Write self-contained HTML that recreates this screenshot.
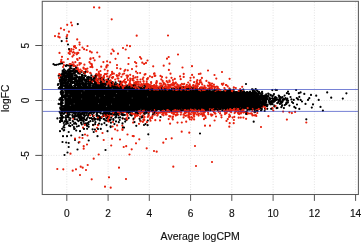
<!DOCTYPE html>
<html><head><meta charset="utf-8"><title>MA plot</title>
<style>
html,body{margin:0;padding:0;background:#fff;}
svg{display:block;}
text{font-family:"Liberation Sans",Arial,sans-serif;font-size:10.2px;fill:#111;stroke:#111;stroke-width:0.15px;}
</style></head><body>
<svg width="362" height="243" viewBox="0 0 362 243">
<rect width="362" height="243" fill="#fff"/>
<g stroke="#dcdcdc" stroke-width="0.8" stroke-dasharray="1 1.6" fill="none"><line x1="66.8" y1="2" x2="66.8" y2="194"/><line x1="108.1" y1="2" x2="108.1" y2="194"/><line x1="149.3" y1="2" x2="149.3" y2="194"/><line x1="190.6" y1="2" x2="190.6" y2="194"/><line x1="231.8" y1="2" x2="231.8" y2="194"/><line x1="273.1" y1="2" x2="273.1" y2="194"/><line x1="314.4" y1="2" x2="314.4" y2="194"/><line x1="355.6" y1="2" x2="355.6" y2="194"/><line x1="43" y1="155.4" x2="358" y2="155.4"/><line x1="43" y1="100.5" x2="358" y2="100.5"/><line x1="43" y1="45.5" x2="358" y2="45.5"/></g>
<polygon points="64.5,86.8 65.5,86.8 66.5,86.8 67.5,86.8 68.5,86.8 69.5,86.8 70.5,86.8 71.5,86.8 72.5,86.8 73.5,86.8 74.5,86.8 75.5,86.8 76.5,86.8 77.5,86.8 78.5,86.8 79.5,86.8 80.5,86.8 81.5,86.8 82.5,86.8 83.5,86.8 84.5,86.8 85.5,86.8 86.5,86.8 87.5,86.8 88.5,86.8 89.5,86.8 90.5,86.8 91.5,86.8 92.5,86.8 93.5,86.8 94.5,86.8 95.5,86.8 96.5,86.8 97.5,86.8 98.5,86.8 99.5,86.8 100.5,86.8 101.5,86.8 102.5,86.8 103.5,86.8 104.5,86.8 105.5,86.8 106.5,86.8 107.5,86.8 108.5,86.8 109.5,86.8 110.5,86.8 111.5,86.8 112.5,86.8 113.5,86.8 114.5,86.8 115.5,86.8 116.5,86.8 117.5,87.0 118.5,87.2 119.5,87.3 120.5,87.5 121.5,87.6 122.5,87.7 123.5,87.8 124.5,87.9 125.5,88.1 126.5,88.2 127.5,88.3 128.5,88.4 129.5,88.5 130.5,88.6 131.5,88.7 132.5,88.7 133.5,88.7 134.5,88.8 135.5,88.8 136.5,88.9 137.5,88.9 138.5,88.9 139.5,89.0 140.5,89.0 141.5,89.1 142.5,89.1 143.5,89.1 144.5,89.2 145.5,89.2 146.5,89.3 147.5,89.3 148.5,89.3 149.5,89.4 150.5,89.4 151.5,89.4 152.5,89.4 153.5,89.5 154.5,89.5 155.5,89.5 156.5,89.5 157.5,89.5 158.5,89.5 159.5,89.6 160.5,89.6 161.5,89.6 162.5,89.6 163.5,89.6 164.5,89.6 165.5,89.6 166.5,89.7 167.5,89.7 168.5,89.7 169.5,89.7 170.5,89.7 171.5,89.7 172.5,89.8 173.5,89.8 174.5,89.8 175.5,89.8 176.5,89.8 177.5,89.8 178.5,89.9 179.5,89.9 180.5,89.9 181.5,89.9 182.5,89.9 183.5,89.9 184.5,90.0 185.5,90.0 186.5,90.0 187.5,90.0 188.5,90.0 189.5,90.0 190.5,90.0 191.5,90.1 192.5,90.1 193.5,90.1 194.5,90.1 195.5,90.1 196.5,90.1 197.5,90.2 198.5,90.2 199.5,90.2 200.5,90.2 201.5,90.2 202.5,90.3 203.5,90.3 204.5,90.3 205.5,90.4 206.5,90.4 207.5,90.4 208.5,90.5 209.5,90.5 210.5,90.5 211.5,90.5 212.5,90.6 213.5,90.6 214.5,90.6 215.5,90.7 216.5,90.7 217.5,90.7 218.5,90.8 219.5,90.8 220.5,90.8 221.5,90.8 222.5,90.9 223.5,90.9 224.5,90.9 225.5,91.0 226.5,91.0 227.5,91.0 228.5,91.1 229.5,91.1 230.5,91.1 231.5,91.1 232.5,91.2 233.5,91.2 234.5,91.2 235.5,91.3 236.5,91.3 237.5,91.3 238.5,91.4 239.5,91.4 240.5,91.4 241.5,91.5 242.5,91.6 243.5,91.7 244.5,91.8 245.5,91.9 246.5,92.0 247.5,92.1 248.5,92.2 249.5,92.3 250.5,92.4 251.5,92.5 252.5,92.6 253.5,92.7 254.5,92.8 255.5,93.0 255.5,107.1 254.5,107.2 253.5,107.3 252.5,107.4 251.5,107.4 250.5,107.5 249.5,107.6 248.5,107.6 247.5,107.7 246.5,107.8 245.5,107.8 244.5,107.9 243.5,108.0 242.5,108.0 241.5,108.1 240.5,108.2 239.5,108.2 238.5,108.2 237.5,108.2 236.5,108.3 235.5,108.3 234.5,108.3 233.5,108.3 232.5,108.4 231.5,108.4 230.5,108.4 229.5,108.4 228.5,108.4 227.5,108.5 226.5,108.5 225.5,108.5 224.5,108.5 223.5,108.5 222.5,108.5 221.5,108.6 220.5,108.6 219.5,108.6 218.5,108.6 217.5,108.7 216.5,108.7 215.5,108.7 214.5,108.7 213.5,108.7 212.5,108.8 211.5,108.8 210.5,108.8 209.5,108.8 208.5,108.8 207.5,108.8 206.5,108.9 205.5,108.9 204.5,108.9 203.5,108.9 202.5,109.0 201.5,109.0 200.5,109.0 199.5,109.0 198.5,109.0 197.5,109.0 196.5,109.1 195.5,109.1 194.5,109.1 193.5,109.1 192.5,109.1 191.5,109.1 190.5,109.2 189.5,109.2 188.5,109.2 187.5,109.2 186.5,109.2 185.5,109.2 184.5,109.2 183.5,109.3 182.5,109.3 181.5,109.3 180.5,109.3 179.5,109.3 178.5,109.3 177.5,109.4 176.5,109.4 175.5,109.4 174.5,109.4 173.5,109.4 172.5,109.4 171.5,109.5 170.5,109.5 169.5,109.5 168.5,109.5 167.5,109.5 166.5,109.5 165.5,109.6 164.5,109.6 163.5,109.6 162.5,109.6 161.5,109.6 160.5,109.6 159.5,109.6 158.5,109.7 157.5,109.7 156.5,109.7 155.5,109.7 154.5,109.7 153.5,109.7 152.5,109.8 151.5,109.8 150.5,109.8 149.5,109.8 148.5,109.9 147.5,110.0 146.5,110.0 145.5,110.1 144.5,110.2 143.5,110.3 142.5,110.3 141.5,110.4 140.5,110.5 139.5,110.5 138.5,110.6 137.5,110.7 136.5,110.7 135.5,110.8 134.5,110.9 133.5,111.0 132.5,111.0 131.5,111.1 130.5,111.2 129.5,111.2 128.5,111.2 127.5,111.2 126.5,111.2 125.5,111.2 124.5,111.2 123.5,111.2 122.5,111.2 121.5,111.2 120.5,111.2 119.5,111.2 118.5,111.2 117.5,111.2 116.5,111.2 115.5,111.2 114.5,111.2 113.5,111.2 112.5,111.2 111.5,111.2 110.5,111.2 109.5,111.2 108.5,111.2 107.5,111.2 106.5,111.2 105.5,111.2 104.5,111.2 103.5,111.2 102.5,111.2 101.5,111.2 100.5,111.2 99.5,111.2 98.5,111.2 97.5,111.2 96.5,111.2 95.5,111.2 94.5,111.2 93.5,111.2 92.5,111.2 91.5,111.2 90.5,111.2 89.5,111.2 88.5,111.2 87.5,111.2 86.5,111.2 85.5,111.2 84.5,111.2 83.5,111.2 82.5,111.2 81.5,111.2 80.5,111.2 79.5,111.2 78.5,111.2 77.5,111.2 76.5,111.2 75.5,111.2 74.5,111.2 73.5,111.2 72.5,111.2 71.5,111.2 70.5,111.2 69.5,111.2 68.5,111.2 67.5,111.2 66.5,111.2 65.5,111.2 64.5,111.2" fill="#000"/>
<g stroke-width="2.2" stroke-linecap="round" fill="none"><path d="M166.6 92.1h0M130.9 92.0h0M88.8 107.9h0M102.2 85.2h0M151.6 89.1h0M125.2 110.0h0M256.0 96.5h0M106.2 83.5h0M191.4 88.1h0M261.0 110.5h0M204.4 100.6h0M86.4 124.8h0M79.1 117.2h0M203.1 88.9h0M215.8 108.5h0M265.8 104.3h0M69.1 111.6h0M117.1 113.4h0M198.5 108.2h0M262.6 103.5h0M63.2 106.1h0M194.8 96.2h0M270.4 104.3h0M215.5 93.4h0M89.8 104.3h0M159.4 89.1h0M103.9 88.4h0M250.5 104.4h0M185.7 89.1h0M78.7 116.0h0M238.1 103.8h0M60.7 84.0h0M249.7 102.5h0M89.0 83.5h0M97.6 118.6h0M83.7 89.9h0M74.9 108.4h0M104.4 111.5h0M158.0 88.6h0M107.0 80.2h0M94.2 111.7h0M172.7 100.1h0M120.2 108.8h0M262.7 102.2h0M126.5 87.6h0M116.9 86.6h0M181.4 96.2h0M117.1 87.3h0M251.7 97.5h0M221.7 101.3h0M61.9 85.8h0M116.7 85.6h0M227.4 91.1h0M108.3 89.4h0M83.5 84.3h0M76.0 81.3h0M76.6 68.4h0M64.3 97.0h0M190.1 91.3h0M261.7 108.6h0M180.6 102.5h0M102.2 84.9h0M274.0 94.0h0M111.1 108.1h0M176.6 92.9h0M66.3 72.6h0M126.9 106.7h0M66.7 86.8h0M130.8 111.3h0M132.5 107.5h0M262.8 96.7h0M88.6 79.1h0M183.6 107.8h0M99.6 82.8h0M109.1 89.5h0M111.0 89.6h0M268.9 100.8h0M114.8 91.8h0M100.4 79.3h0M164.0 104.5h0M197.3 91.2h0M231.9 98.9h0M90.9 112.8h0M196.7 110.5h0M131.3 100.1h0M148.0 106.5h0M96.1 85.9h0M177.1 98.1h0M87.8 78.8h0M171.0 110.0h0M170.3 105.8h0M100.3 84.6h0M207.5 108.7h0M173.2 89.2h0M61.2 99.7h0M86.6 120.0h0M92.5 106.0h0M179.3 91.5h0M65.1 80.3h0M190.4 108.1h0M167.3 103.7h0M84.1 110.0h0M123.8 108.0h0M91.4 75.4h0M111.2 94.3h0M124.9 98.6h0M163.8 108.2h0M127.6 107.4h0M168.5 109.2h0M99.1 79.2h0M139.6 108.7h0M64.3 108.7h0M217.8 96.3h0M252.5 102.9h0M222.9 108.2h0M195.2 108.4h0M107.9 108.4h0M254.9 99.2h0M153.4 86.6h0M181.2 108.9h0M260.9 96.4h0M161.5 90.4h0M68.2 73.6h0M226.1 92.4h0M75.7 84.3h0M284.8 105.1h0M106.4 109.1h0M237.0 93.3h0M87.8 117.3h0M228.5 95.8h0M81.0 120.0h0M64.6 85.7h0M245.9 94.0h0M283.9 108.1h0M127.3 113.3h0M109.3 81.2h0M206.8 109.5h0M68.9 111.6h0M233.5 103.0h0M250.4 105.5h0M157.6 90.0h0M254.5 96.4h0M190.1 104.7h0M238.6 105.8h0M161.6 105.7h0M107.8 109.2h0M61.7 86.2h0M203.7 106.2h0M73.6 108.6h0M218.7 98.6h0M83.4 84.8h0M226.6 106.1h0M96.9 113.9h0M129.2 87.8h0M93.1 85.0h0M125.9 103.9h0M248.2 94.1h0M140.0 89.6h0M235.1 92.7h0M250.4 102.1h0M212.7 109.9h0M77.3 69.6h0M84.2 88.4h0M151.5 109.6h0M146.6 103.9h0M228.6 93.8h0M105.6 110.6h0M142.1 106.0h0M204.0 89.9h0M211.7 109.0h0M236.2 102.3h0M243.5 93.6h0M77.9 83.9h0M122.3 100.5h0M121.7 108.1h0M103.5 88.0h0M165.8 110.2h0M272.5 101.3h0M184.2 107.4h0M168.4 103.4h0M75.4 114.3h0M65.6 85.1h0M83.4 86.1h0M120.0 87.3h0M152.7 109.0h0M201.5 91.5h0M82.9 84.0h0M180.2 89.5h0M258.3 103.1h0M166.5 110.3h0M264.3 100.7h0M220.7 94.5h0M265.6 98.5h0M242.2 103.6h0M77.7 89.7h0M111.7 102.1h0M198.3 107.3h0M161.1 94.2h0M169.4 89.7h0M124.6 91.0h0M145.8 88.0h0M214.0 103.0h0M92.7 106.1h0M81.0 119.6h0M80.7 108.1h0M79.9 116.7h0M218.4 95.7h0M100.3 118.0h0M116.4 108.1h0M193.7 97.6h0M89.1 92.4h0M214.6 103.7h0M69.8 120.2h0M82.4 97.0h0M73.2 109.5h0M62.4 103.2h0M59.6 111.8h0M64.5 113.2h0M130.6 114.7h0M89.3 80.8h0M72.5 109.6h0M259.6 96.3h0M101.6 89.3h0M165.0 108.2h0M139.7 88.2h0M152.4 89.2h0M229.1 109.4h0M162.0 109.8h0M240.1 103.7h0M156.9 88.1h0M61.7 91.7h0M204.1 110.7h0M63.0 85.2h0M264.3 102.9h0M79.3 84.6h0M263.3 99.4h0M100.3 118.2h0M209.7 103.3h0M240.6 103.0h0M222.5 104.4h0M216.5 95.0h0M220.9 106.8h0M272.1 101.8h0M107.5 82.1h0M90.0 84.6h0M154.9 92.9h0M255.9 92.8h0M115.0 103.5h0M176.1 95.1h0M227.1 92.2h0M73.9 127.1h0M177.4 89.7h0M132.6 87.2h0M62.1 118.4h0M118.6 112.0h0M85.8 83.9h0M121.0 93.1h0M143.8 96.1h0M235.3 93.3h0M61.9 94.9h0M138.0 98.0h0M125.7 89.4h0M155.4 93.5h0M100.2 85.7h0M136.6 111.0h0M101.1 110.7h0M149.4 104.7h0M105.2 112.1h0M233.3 95.1h0M65.6 80.6h0M118.8 112.2h0M96.8 112.1h0M62.7 77.9h0M122.8 110.7h0M67.8 123.3h0M117.4 87.0h0M238.3 96.5h0M256.7 96.7h0M149.2 110.8h0M211.8 103.7h0M241.1 96.6h0M62.1 88.6h0M71.2 82.3h0M90.5 101.8h0M128.4 88.1h0M101.1 86.6h0M69.3 69.2h0M69.2 125.6h0M200.8 96.6h0M220.9 99.2h0M153.1 101.0h0M119.2 87.2h0M105.6 98.2h0M142.8 108.7h0M94.4 110.7h0M67.0 107.8h0M195.6 95.5h0M137.4 88.9h0M63.0 78.7h0M254.3 94.4h0M129.2 105.9h0M182.9 110.0h0M72.8 111.2h0M252.5 106.7h0M79.3 77.8h0M250.0 100.7h0M258.8 102.3h0M258.2 103.3h0M231.2 93.2h0M222.5 94.7h0M261.1 95.1h0M83.8 83.4h0M181.2 109.5h0M219.4 108.7h0M98.7 110.5h0M182.8 95.9h0M182.7 90.9h0M232.1 103.5h0M84.7 109.9h0M241.4 98.6h0M152.0 109.3h0M115.6 82.4h0M161.9 101.6h0M138.3 113.5h0M269.6 103.2h0M98.5 91.4h0M249.3 103.1h0M168.5 107.9h0M252.8 89.6h0M70.7 112.0h0M206.6 108.0h0M113.3 88.9h0M243.8 108.6h0M77.7 85.5h0M198.1 99.7h0M191.0 108.5h0M128.4 104.5h0M97.2 92.9h0M259.6 106.6h0M128.0 97.4h0M124.6 89.6h0M256.5 104.0h0M98.0 87.7h0M122.6 111.9h0M78.9 89.4h0M100.0 109.9h0M62.0 97.2h0M157.7 108.6h0M240.8 90.7h0M144.3 108.0h0M186.6 90.8h0M135.8 92.6h0M94.9 129.6h0M257.5 95.2h0M108.4 111.4h0M261.8 103.6h0M133.1 107.9h0M180.0 95.4h0M69.3 81.4h0M137.4 102.8h0M269.4 97.9h0M74.9 72.1h0M94.4 104.9h0M186.3 102.9h0M248.1 103.4h0M105.4 110.9h0M77.1 71.6h0M145.3 92.3h0M264.7 99.5h0M113.0 98.5h0M61.6 91.3h0M121.6 88.6h0M225.1 98.9h0M267.7 104.8h0M174.8 98.6h0M189.3 87.3h0M260.0 108.2h0M207.8 92.5h0M272.3 90.1h0M61.3 77.2h0M111.6 105.8h0M64.5 89.7h0M205.1 95.9h0M247.5 95.5h0M107.0 110.3h0M115.9 117.2h0M67.4 102.3h0M154.2 97.9h0M95.1 124.2h0M106.0 114.3h0M93.2 85.9h0M75.1 87.4h0M197.0 89.9h0M154.7 110.0h0M155.0 103.3h0M278.3 102.6h0M69.5 114.5h0M65.7 87.5h0M145.6 108.8h0M111.6 90.0h0M121.7 114.4h0M88.3 114.1h0M201.6 99.6h0M272.4 96.8h0M267.3 108.8h0M147.2 105.7h0M107.1 80.5h0M89.4 86.5h0M79.3 114.5h0M71.2 81.1h0M278.7 95.6h0M207.0 105.8h0M60.4 83.0h0M246.2 100.5h0M61.4 120.8h0M265.9 104.8h0M124.6 96.0h0M234.0 93.9h0M232.0 91.3h0M69.2 86.7h0M85.4 80.8h0M133.3 91.7h0M202.1 95.6h0M83.6 86.6h0M70.2 109.3h0M66.2 110.3h0M241.7 94.1h0M263.8 99.4h0M252.2 103.5h0M246.5 100.3h0M80.7 119.1h0M94.7 83.4h0M104.3 84.2h0M128.3 112.4h0M107.3 101.8h0M250.7 103.7h0M101.9 82.4h0M65.4 98.4h0M138.8 106.0h0M166.3 89.0h0M163.5 106.3h0M258.8 92.6h0M144.1 113.6h0M103.5 87.5h0M216.4 97.8h0M170.7 93.6h0M115.4 86.4h0M183.5 98.5h0M262.2 98.8h0M78.2 86.9h0M251.3 97.6h0M75.5 71.6h0M123.7 88.4h0M235.2 100.2h0M224.5 107.2h0M75.5 110.2h0M65.2 85.6h0M61.4 74.6h0M73.4 69.3h0M113.2 104.5h0M168.2 108.4h0M116.5 88.0h0M254.2 99.7h0M195.7 99.5h0M254.6 95.1h0M258.6 97.0h0M219.6 96.8h0M260.2 100.2h0M263.7 104.9h0M91.0 101.3h0M134.2 110.9h0M66.1 112.0h0M252.7 108.1h0M144.3 100.1h0M189.9 110.3h0M259.8 99.3h0M106.8 82.3h0M66.4 76.7h0M260.6 97.2h0M239.0 96.2h0M246.8 103.7h0M89.6 112.5h0M235.4 109.0h0M90.4 85.7h0M69.7 69.9h0M108.6 119.8h0M255.5 106.4h0M81.8 124.5h0M63.9 74.6h0M136.8 109.3h0M127.3 110.4h0M225.3 105.6h0M257.5 96.9h0M110.5 86.2h0M125.5 106.9h0M130.3 88.3h0M77.9 71.8h0M201.7 92.1h0M219.2 103.9h0M119.9 89.6h0M102.8 89.2h0M253.5 102.6h0M177.9 88.4h0M194.9 107.9h0M176.3 96.6h0M78.1 112.8h0M263.7 99.0h0M203.8 99.7h0M264.0 96.7h0M191.1 106.4h0M82.0 100.9h0M95.6 83.4h0M67.2 110.7h0M72.0 76.3h0M247.8 99.9h0M100.4 109.5h0M103.1 109.8h0M79.2 83.1h0M106.1 110.1h0M123.2 94.3h0M80.9 95.5h0M256.7 99.9h0M60.1 99.5h0M81.3 71.8h0M144.1 87.6h0M151.6 103.9h0M70.7 89.8h0M61.8 120.9h0M81.0 81.6h0M238.8 91.3h0M240.2 93.4h0M183.3 95.6h0M253.5 103.5h0M85.6 75.8h0M62.0 88.8h0M231.0 91.8h0M66.7 82.9h0M61.0 88.4h0M74.5 82.5h0M213.4 99.5h0M255.1 103.3h0M125.2 121.6h0M250.2 98.8h0M102.1 83.6h0M112.3 108.6h0M161.8 101.0h0M154.9 89.5h0M246.8 101.5h0M183.7 101.0h0M245.0 102.8h0M86.0 92.3h0M89.5 85.7h0M254.7 91.2h0M63.7 92.1h0M141.0 96.9h0M79.2 101.8h0M94.2 87.5h0M133.4 108.1h0M74.1 123.7h0M132.9 107.7h0M78.4 96.8h0M177.2 107.9h0M61.4 110.2h0M267.2 104.8h0M71.6 74.8h0M252.6 98.0h0M68.4 111.4h0M206.4 107.7h0M202.5 111.0h0M134.9 114.7h0M125.9 97.9h0M83.1 89.7h0M103.5 116.1h0M61.7 107.9h0M62.2 102.5h0M79.3 117.7h0M254.9 96.9h0M108.3 97.8h0M245.2 105.0h0M89.2 85.8h0M152.7 111.6h0M103.7 119.1h0M62.1 110.1h0M208.5 100.3h0M83.2 89.8h0M89.8 88.6h0M145.2 111.6h0M248.9 96.4h0M172.4 109.1h0M225.7 102.2h0M229.2 108.6h0M61.9 88.6h0M256.1 100.3h0M118.5 115.1h0M254.2 99.0h0M257.1 104.0h0M138.8 97.4h0M148.7 89.7h0M107.4 112.2h0M99.4 119.7h0M86.2 87.0h0M205.9 109.3h0M113.3 111.5h0M126.1 103.1h0M125.8 108.3h0M159.1 101.4h0M177.4 109.8h0M126.1 109.5h0M63.3 110.5h0M79.8 77.0h0M243.3 89.7h0M126.5 120.0h0M249.2 92.4h0M239.9 108.8h0M103.3 115.6h0M82.7 89.0h0M225.7 109.8h0M142.5 115.8h0M112.9 90.3h0M266.0 100.7h0M197.2 100.8h0M232.8 97.9h0M133.6 95.2h0M118.3 90.1h0M213.3 105.9h0M138.5 99.7h0M68.8 87.4h0M261.8 104.5h0M123.6 96.1h0M121.7 106.6h0M121.9 90.7h0M83.1 120.6h0M79.3 114.8h0M257.0 100.6h0M125.5 87.5h0M81.3 92.7h0M89.3 81.3h0M228.1 94.2h0M91.3 111.4h0M169.5 106.7h0M110.9 109.6h0M91.2 95.8h0M241.3 102.8h0M116.8 97.1h0M130.5 97.9h0M82.4 75.2h0M83.6 109.8h0M79.8 73.7h0M189.0 105.9h0M112.8 110.6h0M117.2 84.2h0M106.8 109.1h0M220.9 99.4h0M129.1 94.4h0M98.7 88.6h0M124.8 98.5h0M99.6 108.2h0M117.9 101.3h0M61.4 82.6h0M282.8 99.4h0M99.8 120.4h0M93.7 78.1h0M227.4 97.7h0M73.9 81.8h0M250.7 98.9h0M65.7 111.9h0M100.7 77.4h0M62.3 73.4h0M161.8 108.1h0M138.7 112.6h0M123.2 115.2h0M60.1 118.0h0M184.5 99.5h0M96.3 85.6h0M146.8 103.8h0M246.5 99.9h0M111.9 86.4h0M108.9 99.8h0M131.2 95.6h0M229.5 91.2h0M246.3 105.6h0M75.1 86.4h0M73.0 110.2h0M255.5 107.3h0M211.1 95.8h0M159.2 89.9h0M203.4 105.4h0M100.9 78.6h0M178.2 100.3h0M260.6 102.9h0M63.5 127.2h0M137.7 111.5h0M252.1 104.3h0M110.3 89.4h0M241.1 100.1h0M72.9 82.8h0M143.3 95.4h0M127.4 109.9h0M152.9 99.4h0M70.3 126.1h0M216.5 108.6h0M196.0 89.6h0M101.7 91.7h0M82.7 79.2h0M70.7 89.2h0M191.8 108.5h0M287.3 98.5h0M60.8 76.1h0M248.9 100.5h0M75.5 109.9h0M226.4 108.2h0M117.7 93.1h0M87.2 98.1h0M108.6 87.7h0M211.8 105.6h0M226.3 103.0h0M260.2 99.6h0M200.7 109.6h0M116.9 96.2h0M91.6 79.9h0M78.5 86.9h0M82.7 80.8h0M174.1 89.9h0M78.7 117.6h0M94.7 108.8h0M113.9 94.1h0M97.3 111.8h0M61.4 115.4h0M252.0 95.3h0M145.7 98.1h0M193.1 107.0h0M142.2 103.3h0M246.0 84.0h0M143.8 88.5h0M174.6 91.1h0M144.7 114.0h0M110.4 108.5h0M226.1 95.3h0M242.5 106.6h0M85.8 100.5h0M161.5 89.5h0M258.0 93.5h0M59.8 81.1h0M122.9 127.3h0M198.4 92.8h0M81.0 88.7h0M60.9 115.1h0M80.0 89.9h0M203.1 109.6h0M147.9 110.2h0M130.9 110.4h0M85.6 120.1h0M154.8 109.1h0M189.9 90.1h0M275.0 98.6h0M61.2 88.0h0M118.4 92.4h0M79.4 88.6h0M70.3 102.3h0M160.9 96.6h0M233.0 99.9h0M76.8 82.8h0M228.8 96.8h0M268.0 96.1h0M69.1 91.1h0M150.2 110.3h0M247.8 97.3h0M145.5 90.0h0M260.0 100.3h0M70.4 123.0h0M61.4 107.6h0M137.2 89.0h0M196.3 90.1h0M77.2 108.4h0M96.9 84.0h0M174.4 104.3h0M159.3 89.6h0M175.1 101.1h0M172.9 105.6h0M254.7 94.9h0M79.8 91.1h0M263.6 98.5h0M147.5 90.9h0M274.5 105.7h0M165.3 106.3h0M187.6 97.7h0M193.0 108.3h0M156.0 99.7h0M108.9 110.6h0M167.3 93.5h0M83.2 103.8h0M188.0 106.9h0M71.1 90.0h0M261.9 106.1h0M74.6 77.9h0M249.6 100.9h0M69.4 92.2h0M81.4 81.3h0M100.7 96.4h0M231.7 98.2h0M280.5 97.1h0M80.2 108.9h0M88.7 126.8h0M74.4 113.6h0M189.0 94.6h0M148.5 101.3h0M69.5 112.4h0M66.7 88.2h0M249.6 102.0h0M286.0 104.2h0M74.9 79.5h0M153.2 100.4h0M263.8 102.5h0M181.1 108.1h0M171.8 99.9h0M151.8 103.6h0M215.9 107.1h0M225.3 104.4h0M144.0 125.0h0M181.4 108.1h0M130.4 89.3h0M236.9 108.2h0M88.9 114.2h0M193.4 108.3h0M233.7 107.0h0M130.0 112.0h0M60.4 75.1h0M161.6 103.1h0M252.3 109.0h0M107.5 120.7h0M257.1 107.2h0M256.9 110.8h0M80.2 85.6h0M82.7 79.2h0M80.6 89.3h0M106.0 97.8h0M157.3 105.1h0M72.4 115.1h0M255.9 101.0h0M91.9 89.2h0M84.5 75.3h0M239.6 108.1h0M75.1 84.2h0M91.2 105.7h0M128.3 108.8h0M79.1 114.5h0M257.1 95.9h0M174.4 89.0h0M95.0 82.5h0M230.0 94.7h0M95.5 85.4h0M135.2 104.8h0M90.5 79.4h0M143.3 97.5h0M112.1 84.0h0M128.9 105.1h0M142.1 92.2h0M75.3 122.9h0M96.5 109.2h0M247.8 108.0h0M262.3 93.4h0M261.2 104.4h0M206.8 106.5h0M142.5 108.3h0M266.0 98.8h0M71.4 110.8h0M94.2 118.9h0M81.9 76.6h0M116.9 91.3h0M111.4 110.3h0M254.6 99.5h0M240.3 108.9h0M155.0 109.9h0M179.3 89.7h0M69.5 109.6h0M196.0 104.5h0M222.3 110.4h0M64.1 89.1h0M74.8 81.3h0M104.2 106.5h0M62.0 96.1h0M105.2 113.8h0M124.9 100.4h0M69.1 74.2h0M168.5 89.5h0M200.3 100.2h0M165.7 106.1h0M117.6 111.9h0M62.0 118.3h0M247.4 98.2h0M253.0 106.7h0M256.3 110.5h0M199.6 96.4h0M100.7 82.6h0M140.5 94.2h0M61.5 94.0h0M196.3 106.3h0M169.5 90.8h0M111.6 86.7h0M70.7 71.0h0M75.5 70.5h0M252.4 108.5h0M167.9 108.6h0M117.4 88.1h0M147.5 86.5h0M122.7 115.2h0M106.3 110.0h0M127.7 111.9h0M77.9 80.3h0M258.4 106.2h0M110.0 83.9h0M145.5 87.9h0M63.3 80.1h0M265.7 101.3h0M73.4 82.7h0M119.2 106.1h0M200.2 97.7h0M135.6 86.7h0" stroke="#000"/><path d="M224.4 88.0h0M170.2 110.8h0M133.4 119.6h0M232.6 117.6h0M273.3 110.5h0M144.6 117.1h0M192.9 89.1h0M147.1 85.4h0M168.0 111.2h0M185.3 110.7h0M139.8 111.4h0M154.7 89.5h0M174.2 89.7h0M135.7 82.0h0M150.5 117.6h0M205.8 111.0h0M92.4 67.2h0M211.0 114.4h0M192.5 110.9h0M141.5 89.0h0M190.0 87.0h0M150.2 89.1h0M117.6 85.9h0M198.6 89.3h0M229.3 88.3h0M189.5 86.9h0M211.9 88.4h0M97.2 52.5h0M214.0 112.3h0M77.1 59.1h0M162.7 110.8h0M136.6 84.6h0M102.4 83.6h0M121.8 87.3h0M120.6 81.4h0M189.6 89.2h0M170.6 116.3h0M144.1 117.6h0M130.6 85.0h0M254.3 115.3h0M216.3 78.6h0M194.4 114.7h0M97.8 75.1h0M102.4 77.5h0M144.2 112.3h0M172.8 119.5h0M146.7 85.2h0M135.6 85.7h0M200.4 110.0h0M168.9 69.9h0M163.4 89.8h0M152.3 110.4h0M106.0 115.0h0M99.4 76.2h0M91.7 64.2h0M133.9 87.8h0M74.9 66.0h0M205.6 117.9h0M169.4 80.5h0M92.9 118.9h0M97.1 127.8h0M140.3 113.7h0M183.9 87.6h0M205.0 88.9h0M107.3 73.5h0M93.4 125.2h0M165.6 88.9h0M195.1 110.2h0M256.3 116.0h0M77.7 60.0h0M208.1 89.9h0M77.2 52.8h0M214.9 109.9h0M204.5 110.2h0M209.6 88.0h0M122.3 125.6h0M155.4 87.5h0M111.6 85.9h0M83.0 127.7h0M112.0 77.6h0M171.6 110.7h0M85.0 73.5h0M122.1 112.6h0M144.4 84.8h0M168.4 86.7h0M249.3 109.5h0M146.7 83.3h0M177.7 114.5h0M104.1 77.7h0M229.3 114.7h0M243.2 109.4h0M204.4 89.2h0M243.4 117.6h0M188.0 89.8h0M156.5 85.9h0M220.2 111.6h0M133.1 122.6h0M170.5 73.7h0M112.3 78.1h0M155.7 111.7h0M154.7 86.9h0M196.9 114.4h0M206.9 90.0h0M172.2 84.3h0M148.9 112.7h0M66.9 65.1h0M114.3 85.9h0M59.5 52.9h0M121.3 83.6h0M238.5 109.0h0M133.9 84.7h0M86.1 71.6h0M154.5 76.0h0M103.4 62.1h0M212.5 114.8h0M211.7 87.7h0M94.6 60.3h0M152.1 77.2h0M210.8 114.5h0M195.7 85.3h0M190.8 86.7h0M75.1 66.2h0M154.2 85.2h0M194.9 112.6h0M106.4 67.5h0M192.2 89.1h0M122.7 74.4h0M207.8 85.7h0M183.7 73.9h0M211.2 85.6h0M137.3 88.0h0M125.3 69.8h0M161.4 85.5h0M127.8 70.3h0M178.4 110.1h0M137.2 81.9h0M161.8 87.0h0M95.6 77.8h0M181.3 112.6h0M122.4 82.5h0M164.6 83.7h0M171.7 84.3h0M167.9 88.4h0M169.5 112.0h0M228.5 110.6h0M107.2 113.9h0M165.5 88.5h0M117.6 87.0h0M154.0 73.8h0M127.9 80.1h0M144.4 89.1h0M122.3 87.3h0M162.3 110.5h0M144.6 74.7h0M96.9 69.8h0M200.6 90.4h0M215.1 113.4h0M67.0 112.9h0M135.7 83.2h0M194.1 112.7h0M192.7 88.9h0M107.7 65.4h0M175.8 115.1h0M139.0 123.8h0M161.6 89.5h0M80.9 63.3h0M142.5 87.9h0M231.1 110.8h0M140.4 82.0h0M214.5 88.7h0M240.2 89.2h0M176.4 112.1h0M94.5 80.4h0M96.4 76.8h0M209.5 109.1h0M79.5 64.6h0M122.9 85.6h0M74.5 116.0h0M163.4 82.7h0M154.8 111.1h0M236.4 108.9h0M73.9 70.7h0M189.3 111.8h0M108.3 84.1h0M103.9 84.3h0M108.8 121.4h0M203.9 89.5h0M110.3 83.9h0M85.8 69.5h0M163.7 84.3h0M74.5 47.1h0M244.9 112.1h0M173.1 87.8h0M213.5 109.1h0M130.4 80.2h0M157.6 88.3h0M252.5 115.5h0M142.8 79.1h0M257.1 108.9h0M71.1 51.1h0M128.4 88.1h0M193.6 115.5h0M94.4 81.2h0M110.6 80.4h0M87.5 71.9h0M152.0 111.2h0M204.0 119.2h0M106.3 80.0h0M225.9 85.0h0M156.7 82.2h0M202.3 89.4h0M188.6 109.7h0M225.7 113.0h0M169.3 85.0h0M77.3 53.6h0M150.5 120.7h0M110.1 62.3h0M200.9 114.3h0M151.6 117.4h0M118.8 75.6h0M184.9 112.3h0M124.6 87.7h0M203.1 89.2h0M240.8 117.6h0M191.5 112.3h0M130.2 78.7h0M108.0 81.4h0M140.2 87.0h0M73.4 49.5h0M182.1 87.2h0M134.0 113.6h0M74.8 53.0h0M202.8 115.9h0M210.3 85.6h0M239.8 111.7h0M216.3 109.0h0M129.8 82.9h0M195.3 87.7h0M114.1 85.1h0M107.2 84.3h0M252.1 109.1h0M108.9 85.3h0M117.0 85.0h0M170.9 84.7h0M140.1 73.0h0M167.0 112.0h0M224.9 112.0h0M78.3 52.9h0M119.4 73.7h0M147.7 85.9h0M154.6 88.6h0M187.1 88.6h0M185.9 86.7h0M164.4 89.3h0M196.8 88.1h0M98.8 71.9h0M165.6 112.6h0M113.0 122.0h0M153.1 110.1h0M156.9 110.1h0M201.0 110.1h0M175.8 82.7h0M193.4 114.0h0M238.5 113.7h0M126.2 82.1h0M257.3 113.0h0M193.1 86.0h0M226.5 120.9h0M174.3 88.8h0M154.8 87.3h0M143.7 88.7h0M97.6 81.2h0M111.9 85.5h0M128.4 112.3h0M223.4 83.6h0M168.1 84.9h0M234.3 109.7h0M62.0 56.8h0M208.6 85.8h0M229.7 115.4h0" stroke="#e8200c"/><path d="M74.3 72.0h0M193.4 97.1h0M80.6 88.3h0M185.1 89.3h0M183.7 108.5h0M64.2 111.3h0M64.1 107.4h0M84.6 112.7h0M249.6 109.5h0M104.6 111.2h0M62.9 93.2h0M140.8 100.4h0M134.1 87.3h0M74.4 69.2h0M182.3 99.5h0M137.0 90.1h0M246.2 102.3h0M147.5 100.7h0M106.0 115.4h0M73.9 112.5h0M154.4 91.5h0M67.5 101.6h0M186.7 97.2h0M204.5 89.6h0M62.8 109.2h0M105.9 109.2h0M66.1 75.5h0M204.2 108.5h0M203.6 110.0h0M67.8 108.3h0M179.6 88.1h0M99.6 87.4h0M251.8 99.5h0M70.8 92.7h0M75.8 89.3h0M136.6 106.5h0M102.1 105.8h0M113.4 120.0h0M122.5 90.3h0M82.8 89.8h0M112.0 105.5h0M261.8 107.0h0M233.5 92.5h0M243.5 108.1h0M261.7 102.3h0M213.7 97.1h0M91.3 118.1h0M62.8 79.5h0M181.7 108.2h0M70.5 112.1h0M78.8 88.0h0M176.0 97.4h0M89.8 118.2h0M145.2 92.5h0M109.2 113.3h0M263.8 101.9h0M79.0 77.8h0M194.6 96.7h0M97.7 86.4h0M97.2 109.1h0M252.6 96.5h0M66.2 76.6h0M253.3 93.7h0M263.8 100.7h0M138.0 89.2h0M65.2 70.7h0M252.0 104.1h0M117.7 108.3h0M152.9 114.4h0M215.7 96.4h0M194.3 100.0h0M86.8 113.1h0M60.8 120.2h0M150.9 89.2h0M146.0 108.9h0M168.5 109.0h0M188.0 93.6h0M218.2 100.5h0M264.3 101.0h0M64.4 77.1h0M69.2 91.1h0M172.2 96.6h0M87.1 86.9h0M106.1 107.3h0M249.5 103.0h0M167.5 91.4h0M209.8 108.9h0M259.5 106.4h0M245.9 98.5h0M132.1 106.0h0M62.4 116.9h0M107.1 108.9h0M61.2 102.4h0M122.5 94.7h0M176.8 100.4h0M68.1 116.4h0M134.1 95.3h0M193.2 92.0h0M67.8 89.2h0M210.2 102.4h0M110.1 109.1h0M253.6 98.1h0M104.8 86.4h0M88.7 104.6h0M229.3 108.8h0M66.6 79.4h0M111.9 83.3h0M194.2 107.5h0M143.6 92.6h0M74.5 93.8h0M105.0 109.5h0M257.7 97.3h0M99.0 85.5h0M185.3 98.9h0M244.8 93.2h0M135.2 87.8h0M82.0 118.5h0M221.8 108.4h0M64.7 109.3h0M247.8 102.7h0M100.1 87.2h0M229.2 97.7h0M128.2 89.5h0M172.0 94.7h0M123.6 89.1h0M264.9 98.7h0M82.4 110.0h0M110.9 122.7h0M64.8 79.9h0M66.4 110.4h0M247.8 102.5h0M249.1 107.1h0M96.3 89.4h0M64.9 86.0h0M260.2 100.7h0M225.5 98.6h0M131.5 98.0h0M204.6 96.9h0M174.2 93.4h0M162.7 99.4h0M231.4 106.8h0M172.2 100.3h0M224.2 105.4h0M62.5 76.7h0M137.5 111.9h0M88.1 115.8h0M110.6 126.3h0M150.0 98.5h0M143.7 111.6h0M87.4 93.8h0M254.4 95.5h0M191.4 98.9h0M63.0 71.3h0M250.1 101.8h0M95.6 99.5h0M149.0 96.9h0M139.0 109.1h0M140.0 92.3h0M188.0 89.1h0M107.5 114.4h0M95.2 108.8h0M207.7 91.2h0M110.7 119.6h0M95.7 100.9h0M254.8 108.8h0M144.3 110.2h0M132.9 88.5h0M73.6 73.1h0M246.7 92.8h0M268.2 93.7h0M130.7 106.6h0M247.0 104.7h0M133.4 91.4h0M208.3 109.6h0M193.3 99.5h0M263.0 102.4h0M80.9 111.0h0M76.0 85.0h0M76.6 75.7h0M139.3 103.6h0M131.5 113.1h0M119.0 108.8h0M64.4 127.5h0M70.7 84.8h0M258.0 100.7h0M152.5 90.7h0M217.4 97.2h0M198.4 102.2h0M150.5 91.2h0M92.5 119.0h0M107.9 81.8h0M113.7 97.6h0M85.2 75.9h0M278.6 100.1h0M138.6 107.9h0M251.3 102.7h0M261.1 96.1h0M248.8 105.9h0M264.3 104.4h0M74.2 116.4h0M115.2 108.1h0M77.6 93.2h0M75.3 109.4h0M179.9 95.4h0M269.7 102.7h0M67.4 82.6h0M150.0 110.1h0M223.8 91.6h0M188.0 106.9h0M112.2 90.0h0M248.2 104.2h0M151.3 97.8h0M86.2 84.5h0M70.5 85.5h0M192.2 105.3h0M65.3 111.7h0M114.3 109.5h0M161.8 99.0h0M73.2 121.6h0M163.5 98.0h0M135.1 89.4h0M217.9 104.0h0M190.5 107.9h0M123.4 87.9h0M215.7 108.5h0M61.4 91.4h0M81.6 120.2h0M256.0 100.9h0M101.6 90.0h0M65.7 110.1h0M80.9 81.7h0M80.4 107.2h0M117.8 110.3h0M128.4 111.2h0M256.7 104.3h0M93.2 110.9h0M256.2 99.1h0M94.5 88.3h0M93.6 103.8h0M81.2 88.7h0M72.2 89.6h0M229.8 101.1h0M67.8 81.8h0M93.0 124.9h0M83.1 107.0h0M257.3 99.8h0M190.9 89.5h0M248.8 99.0h0M72.2 112.7h0M202.1 108.3h0M106.0 84.1h0M257.1 103.5h0M64.8 78.6h0M217.9 109.2h0M89.7 93.1h0M64.5 105.9h0M97.4 108.0h0M61.5 87.5h0M104.5 109.9h0M84.8 88.6h0M146.0 99.0h0M98.2 124.9h0M209.2 89.3h0M66.2 87.4h0M108.2 116.5h0M249.9 108.4h0M162.3 99.3h0M82.8 110.0h0M149.8 89.8h0M228.5 96.8h0M225.0 108.3h0M79.3 82.3h0M177.8 109.2h0M70.6 88.6h0M261.3 105.6h0M106.9 97.3h0M190.7 103.4h0M260.0 97.6h0M99.0 116.0h0M174.7 111.8h0M116.5 114.8h0M216.3 106.4h0M269.3 99.3h0M168.6 91.5h0M254.7 112.2h0M148.4 100.7h0M61.5 120.1h0M96.2 78.9h0M128.6 110.6h0M130.3 94.6h0M121.0 85.2h0M192.5 107.9h0M140.9 95.3h0M97.3 107.3h0M247.4 99.6h0M73.0 109.9h0M167.0 102.2h0M123.4 94.8h0M182.2 94.8h0M266.1 97.5h0M67.5 74.1h0M71.6 81.6h0M246.4 103.9h0M82.2 80.7h0M192.5 107.4h0M160.7 106.4h0M153.7 101.3h0M237.8 101.9h0M102.3 79.2h0M251.0 95.8h0M107.9 104.1h0M129.7 106.9h0M82.4 83.5h0M86.8 118.7h0M166.6 106.9h0M201.4 89.9h0M129.9 110.3h0M195.4 96.5h0M134.3 97.2h0M119.8 92.4h0M102.4 89.7h0M265.9 104.4h0M247.8 107.8h0M61.5 120.0h0M67.3 83.0h0M74.5 75.6h0M127.2 106.1h0M87.7 102.9h0M58.7 75.7h0M82.7 88.2h0M133.2 107.3h0M68.4 80.9h0M58.6 103.9h0M186.7 102.3h0M137.9 100.6h0M177.4 88.8h0M84.8 109.3h0M176.6 103.0h0M247.3 95.9h0M82.9 85.6h0M147.0 112.0h0M194.2 97.4h0M64.4 72.0h0M92.6 129.3h0M192.9 89.9h0M158.0 95.3h0M287.0 102.6h0M107.4 82.8h0M134.9 106.2h0M83.7 121.8h0M176.9 89.2h0M81.1 122.7h0M203.2 98.7h0M65.3 117.4h0M66.0 97.9h0M67.6 114.1h0M193.3 106.6h0M122.6 87.6h0M69.4 84.3h0M247.6 106.5h0M221.8 106.5h0M66.0 124.0h0M62.1 93.6h0M75.2 111.0h0M105.2 96.1h0M226.3 91.0h0M107.5 117.3h0M86.4 102.5h0M191.8 100.7h0M66.9 109.4h0M127.4 88.4h0M81.8 80.0h0M81.7 108.9h0M67.1 86.5h0M82.8 107.5h0M104.2 80.8h0M69.5 75.8h0M247.2 108.1h0M166.4 109.3h0M94.1 77.4h0M177.9 111.4h0M91.2 77.9h0M205.5 107.9h0M249.4 98.1h0M246.1 106.4h0M148.6 111.1h0M116.2 85.0h0M142.1 117.0h0M175.6 89.2h0M149.5 96.1h0M131.9 109.5h0M203.0 108.2h0M81.0 87.0h0M85.0 100.4h0M118.4 101.4h0M158.2 109.2h0M173.8 102.6h0M211.6 100.7h0M107.0 115.8h0M70.3 99.9h0M238.9 95.6h0M256.7 95.2h0M67.8 88.4h0M257.2 100.6h0M64.7 95.9h0M89.1 85.1h0M257.6 106.2h0M136.9 114.3h0M251.7 106.9h0M67.3 84.3h0M64.2 130.0h0M244.8 102.2h0M78.8 110.1h0M236.7 95.4h0M223.9 106.3h0M117.2 90.1h0M95.4 100.4h0M114.1 84.5h0M61.9 101.1h0M174.8 103.6h0M156.9 106.6h0M202.0 105.5h0M86.8 111.6h0M222.6 102.8h0M63.5 73.2h0M150.6 96.8h0M89.9 90.7h0M190.4 87.7h0M104.5 114.0h0M64.3 82.7h0M135.4 101.9h0M104.0 99.0h0M91.3 112.8h0M107.9 82.5h0M260.4 99.2h0M246.8 105.5h0M115.2 109.9h0M62.2 78.7h0M154.6 96.7h0M206.2 97.3h0M186.6 88.2h0M151.8 97.6h0M247.9 102.4h0M144.5 88.0h0M132.5 99.7h0M125.0 108.7h0M247.8 109.8h0M257.1 97.3h0M149.3 109.9h0M144.9 104.4h0M69.4 77.6h0M257.7 103.5h0M205.1 101.5h0M176.1 106.5h0M233.5 102.6h0M180.8 108.7h0M250.4 108.3h0M140.7 90.9h0M124.2 106.3h0M169.4 95.9h0M200.0 95.8h0M129.7 99.4h0M96.6 97.0h0M176.9 109.7h0M67.9 101.1h0M91.0 110.4h0M64.4 107.4h0M64.5 121.4h0M105.2 84.4h0M66.1 80.3h0M97.2 85.4h0M176.2 94.9h0M131.6 109.7h0M92.9 121.0h0M130.0 95.3h0M224.7 100.7h0M61.3 89.7h0M209.5 96.1h0M211.2 92.4h0M68.7 75.8h0M251.4 100.0h0M62.9 113.5h0M252.3 106.4h0M281.3 107.2h0M72.9 79.5h0M130.8 108.5h0M66.8 89.8h0M78.2 73.5h0M177.2 109.0h0M225.9 100.2h0M126.7 85.6h0M176.9 104.2h0M180.9 96.0h0M235.4 101.0h0M69.9 72.4h0M145.2 88.5h0M95.6 111.3h0M249.7 104.7h0M169.0 98.4h0M103.6 99.5h0M183.1 110.1h0M173.6 108.7h0M66.0 73.2h0M265.6 99.4h0M161.9 110.3h0M206.6 97.6h0M259.8 98.5h0M247.0 102.7h0M239.6 106.9h0M245.9 97.6h0M227.6 105.7h0M98.0 86.9h0M153.2 86.3h0M139.9 96.3h0M120.1 88.8h0M76.6 108.0h0M228.7 103.2h0M117.9 113.8h0M167.3 109.7h0M218.6 94.6h0M67.9 111.5h0M63.3 113.8h0M153.2 89.6h0M201.0 108.6h0M151.9 93.6h0M62.9 95.2h0M70.6 75.8h0M133.3 86.2h0M94.2 102.4h0M233.6 91.0h0M94.8 81.3h0M125.2 89.6h0M67.7 82.6h0M105.1 84.0h0M140.2 102.2h0M252.6 92.9h0M172.6 105.8h0M124.6 106.0h0M80.0 119.0h0M228.4 102.9h0M120.1 92.1h0M263.1 98.5h0M133.6 109.1h0M199.7 89.5h0M154.8 89.0h0M126.7 99.2h0M247.0 101.9h0M153.4 95.1h0M115.9 112.3h0M120.1 110.7h0M72.7 121.0h0M73.3 86.3h0M271.6 104.2h0M257.8 106.3h0M244.8 105.9h0M61.8 83.4h0M282.6 97.1h0M92.0 87.9h0M156.9 112.9h0M203.6 97.1h0M185.6 107.3h0M168.9 104.7h0M110.8 82.8h0M273.5 95.0h0M176.3 108.7h0M65.2 86.5h0M126.5 104.2h0M174.5 90.0h0M138.4 110.8h0M74.0 99.4h0M68.4 73.8h0M252.7 100.9h0M77.8 77.3h0M72.4 83.2h0M76.3 116.2h0M146.9 91.1h0M154.8 111.5h0M218.8 108.9h0M254.4 104.7h0M72.6 93.8h0M127.9 108.8h0M87.1 128.8h0M69.9 73.7h0M193.8 109.1h0M67.2 88.8h0M62.0 120.5h0M113.0 113.0h0M244.9 105.8h0M94.0 106.7h0M102.9 98.5h0M253.6 103.5h0M258.1 106.0h0M226.7 108.8h0M197.0 100.4h0M112.1 110.5h0M61.7 105.0h0M255.9 97.8h0M88.8 122.1h0M124.5 92.0h0M245.1 108.3h0M141.9 92.2h0M220.3 90.0h0M90.6 83.7h0M61.7 80.1h0M62.1 88.8h0M202.5 95.5h0M64.4 109.3h0M232.8 101.7h0M219.9 106.8h0M167.6 88.9h0M126.5 108.4h0M264.3 100.9h0M136.6 102.7h0M118.5 87.7h0M74.8 73.3h0M129.3 109.5h0M100.5 100.1h0M238.5 102.6h0M126.0 88.7h0M61.1 89.2h0M65.9 89.5h0M143.1 108.9h0M165.8 90.6h0M202.8 88.8h0M128.8 108.9h0M131.5 109.7h0M116.9 86.7h0M255.1 107.5h0M244.1 99.8h0M162.5 87.2h0M191.3 92.3h0M276.6 108.1h0M152.2 103.7h0M116.0 121.4h0M77.5 110.5h0M88.3 97.1h0M61.4 107.7h0M74.2 129.0h0M207.2 98.7h0M255.7 95.5h0M232.7 103.0h0M156.0 89.0h0M127.2 88.6h0M250.3 108.4h0M257.0 101.1h0M194.4 107.7h0M70.1 86.7h0M266.7 96.6h0M90.0 77.3h0M103.2 85.6h0M197.0 107.6h0M93.6 112.9h0M132.6 104.3h0M131.0 98.6h0M220.2 100.6h0M60.6 74.9h0M67.6 96.6h0M253.7 104.4h0M240.8 93.2h0M93.1 116.2h0M64.3 81.3h0M267.1 98.5h0M69.6 85.1h0M280.7 103.5h0M69.5 103.4h0M186.1 109.2h0M94.6 83.9h0M120.7 94.6h0M118.7 110.2h0M122.5 123.4h0M139.5 87.5h0M206.8 95.2h0M189.8 92.3h0M101.2 92.3h0M71.5 106.6h0M60.0 121.9h0M113.4 92.2h0M100.0 112.4h0M77.8 87.3h0M253.1 96.0h0M250.7 109.4h0M159.8 98.7h0M76.6 80.9h0M66.9 85.7h0M66.1 119.6h0M73.1 70.5h0M137.3 87.9h0M232.5 103.0h0M105.6 87.3h0M195.3 89.3h0M106.3 108.5h0M187.7 96.1h0M112.3 82.0h0M252.0 108.5h0M97.7 110.2h0M83.8 92.5h0M153.6 89.7h0M105.3 120.4h0M70.8 81.6h0M175.7 109.3h0M178.1 97.9h0M124.0 127.6h0M213.0 108.9h0M204.2 90.0h0M86.6 108.2h0M255.8 104.4h0M187.6 97.1h0M73.2 103.8h0M252.5 102.7h0M79.4 80.4h0M205.5 108.2h0M95.9 108.4h0M58.8 88.2h0M104.4 86.4h0M163.8 100.1h0M106.5 125.1h0M68.1 86.1h0M275.4 98.8h0M212.4 94.0h0M164.8 94.1h0M61.4 81.8h0M146.4 87.4h0M99.6 111.7h0M251.4 93.4h0M87.0 97.6h0M183.8 103.9h0M192.8 96.2h0M134.9 111.2h0M117.1 93.4h0M123.4 87.7h0M216.5 104.8h0M205.4 100.0h0M94.4 87.1h0M209.4 100.2h0M70.3 77.6h0M147.5 88.9h0M170.0 97.8h0M70.5 103.7h0M247.8 96.4h0M287.9 102.4h0M212.5 109.5h0M122.4 87.5h0M219.9 96.9h0M144.9 107.8h0M87.1 77.5h0M135.0 85.0h0M130.8 113.5h0M105.7 108.0h0M74.8 79.2h0M179.3 109.1h0M190.3 90.3h0M70.2 83.4h0M70.7 111.4h0M120.8 93.3h0M282.2 105.4h0M83.8 78.5h0M81.5 106.3h0M85.9 81.9h0M77.7 114.3h0M211.5 89.2h0M132.3 86.6h0M237.3 104.6h0M208.4 108.0h0M115.9 109.5h0M60.6 103.9h0M112.9 87.4h0M176.5 93.6h0M219.3 109.3h0M173.2 95.1h0M131.6 115.5h0M191.7 94.0h0M135.9 112.9h0M256.3 100.4h0M110.1 100.0h0M131.6 89.6h0M84.0 128.9h0M90.9 100.7h0M94.6 108.5h0M110.9 86.9h0M115.1 94.9h0M247.2 97.3h0M79.7 110.7h0M73.8 101.2h0M86.7 80.8h0M250.6 106.8h0M96.0 100.1h0M122.2 97.1h0M187.7 100.2h0M112.8 94.5h0M71.0 71.6h0M202.1 89.6h0M137.3 108.1h0M198.4 93.8h0M248.3 96.1h0M256.5 99.4h0M147.9 112.2h0M152.9 110.0h0M83.6 104.9h0M263.3 104.8h0M138.2 102.8h0M248.2 106.7h0M111.5 105.7h0M207.1 101.0h0M116.3 110.7h0M251.9 94.5h0M95.2 86.2h0M92.6 102.5h0M194.4 102.8h0M98.3 89.1h0M112.1 103.3h0M249.0 93.1h0M280.4 101.4h0M78.4 72.2h0M110.4 85.0h0M158.2 108.7h0M161.9 107.9h0M75.7 113.1h0M145.9 93.8h0M95.4 82.1h0M262.0 105.2h0M87.6 111.7h0M153.1 89.0h0M147.7 100.8h0M85.3 82.1h0M68.1 115.7h0M244.4 99.7h0M133.6 118.6h0M247.6 94.5h0M239.8 91.1h0M89.3 106.1h0M193.7 108.5h0M247.5 102.6h0M60.6 83.8h0M260.4 101.5h0M177.5 107.3h0M242.6 108.1h0M155.3 108.6h0M262.0 105.2h0M153.4 88.8h0M160.7 87.0h0M263.7 96.1h0M112.8 110.6h0M147.9 110.8h0M122.7 99.7h0M272.6 95.8h0M268.7 93.9h0M282.7 100.5h0M254.3 108.0h0M126.7 87.6h0M286.5 103.7h0M261.5 102.7h0M62.1 77.9h0M83.1 109.0h0M119.6 110.7h0M108.9 88.6h0M265.2 101.1h0M264.6 104.3h0M64.7 110.0h0M228.4 108.1h0M195.4 101.4h0M79.8 72.4h0M252.7 100.9h0M163.9 94.7h0M177.4 98.9h0M219.8 96.2h0M189.8 92.9h0M119.4 110.2h0M131.8 91.7h0M110.2 114.2h0M130.5 114.5h0M77.1 89.9h0M167.8 108.2h0M173.5 100.5h0M264.6 102.6h0M172.7 98.5h0M130.6 93.0h0M79.4 85.8h0M88.5 76.9h0M194.3 91.6h0M200.0 102.9h0M200.1 109.4h0M93.1 90.2h0M255.7 92.3h0M97.3 80.4h0M108.1 94.5h0M96.5 88.5h0M190.3 88.8h0M83.8 118.4h0M167.0 101.6h0M253.0 103.6h0M217.9 97.4h0M81.3 108.7h0M73.5 110.6h0M126.3 109.9h0M147.9 93.2h0M140.7 97.0h0M72.2 78.3h0M115.5 101.5h0M62.3 88.2h0M210.2 88.9h0M245.0 106.3h0M264.7 95.8h0M119.1 96.6h0M146.8 108.5h0M109.8 114.0h0M179.5 101.6h0M128.0 97.8h0M106.3 93.7h0M87.7 123.2h0M249.8 105.1h0M274.0 98.8h0M96.6 99.5h0M163.3 105.3h0M126.7 101.7h0M196.4 93.3h0M265.6 100.1h0M61.9 111.6h0" stroke="#000"/><path d="M104.8 84.6h0M97.0 79.1h0M193.6 85.7h0M119.5 114.3h0M123.9 80.9h0M235.6 109.9h0M229.7 123.2h0M142.8 85.9h0M73.7 64.3h0M173.2 112.8h0M197.7 86.0h0M214.6 120.5h0M159.2 86.7h0M227.8 119.1h0M231.2 109.4h0M182.7 89.5h0M207.9 89.3h0M209.3 109.5h0M150.7 85.4h0M254.5 108.0h0M79.5 63.0h0M186.1 110.4h0M231.7 110.3h0M125.4 82.9h0M162.0 88.8h0M60.7 75.6h0M128.9 85.3h0M89.5 62.2h0M151.5 88.6h0M198.9 74.0h0M204.0 109.7h0M151.6 88.2h0M121.4 76.8h0M71.9 64.8h0M107.6 114.8h0M179.6 88.4h0M162.4 111.0h0M157.7 114.7h0M119.1 86.8h0M131.4 85.1h0M213.2 109.1h0M143.7 83.5h0M148.1 84.0h0M152.1 118.1h0M210.0 85.4h0M185.9 89.3h0M230.0 111.0h0M145.5 74.1h0M131.6 85.3h0M164.3 111.9h0M198.4 114.2h0M242.1 91.2h0M122.5 129.1h0M166.1 113.0h0M122.1 87.3h0M216.0 116.5h0M148.6 115.7h0M80.4 69.7h0M174.6 86.6h0M109.2 114.8h0M71.3 49.0h0M149.4 88.8h0M194.1 119.4h0M202.4 114.5h0M110.9 86.0h0M177.0 86.3h0M147.7 87.9h0M103.8 76.3h0M172.9 80.0h0M133.2 76.1h0M207.9 110.6h0M217.9 109.4h0M185.1 87.9h0M192.4 117.8h0M163.5 112.4h0M226.6 110.2h0M114.6 112.8h0M127.8 76.5h0M180.5 85.0h0M238.7 117.7h0M100.1 79.5h0M214.5 75.0h0M180.7 79.2h0M214.9 87.5h0M198.4 89.5h0M255.5 109.6h0M137.3 84.3h0M68.6 53.1h0M130.4 88.1h0M118.0 84.5h0M196.5 111.0h0M147.2 83.8h0M89.2 81.0h0M61.0 62.0h0M96.4 74.2h0M127.2 77.9h0M120.5 68.8h0M107.1 76.4h0M168.9 86.7h0M170.9 87.3h0M185.6 86.8h0M132.0 87.6h0M177.2 84.4h0M209.2 85.6h0M257.7 108.9h0M179.6 111.5h0M90.5 63.5h0M228.0 109.1h0M119.5 73.7h0M124.9 111.9h0M173.3 84.9h0M181.5 111.1h0M123.0 118.6h0M177.5 122.6h0M201.2 88.5h0M252.3 111.1h0M166.7 81.2h0M246.3 111.9h0M103.1 78.5h0M180.1 88.4h0M204.9 111.9h0M172.0 111.3h0M213.9 84.7h0M155.0 89.3h0M153.2 88.8h0M247.4 112.6h0M165.7 114.4h0M254.4 111.8h0M76.5 67.6h0M99.0 73.7h0M156.5 87.2h0M100.9 74.9h0M63.7 62.3h0M103.9 84.0h0M180.5 86.0h0M133.7 86.8h0M135.6 77.4h0M159.9 86.7h0M207.7 110.1h0M143.4 77.5h0M189.0 87.1h0M169.2 116.0h0M124.0 87.6h0M195.0 109.6h0M243.4 112.6h0M176.0 87.6h0M110.8 75.0h0M199.9 80.9h0M243.4 110.0h0M151.6 85.9h0M77.4 65.3h0M62.3 62.6h0M208.7 82.6h0M242.7 109.3h0M73.6 66.1h0M252.2 114.3h0M178.8 88.5h0M144.5 112.2h0M79.6 58.2h0M99.3 79.7h0M69.8 53.9h0M167.4 88.4h0M156.3 89.0h0M171.7 112.8h0M183.6 117.4h0M145.2 88.7h0M241.4 110.2h0M112.1 71.9h0M101.2 66.7h0M261.5 106.8h0M134.6 87.4h0M203.6 111.6h0M140.5 79.5h0M138.9 87.9h0M103.9 75.8h0M118.4 78.6h0M136.5 111.3h0M216.8 90.2h0M215.0 86.8h0M73.3 118.7h0M150.8 111.3h0M147.5 83.9h0M124.0 87.3h0M126.5 75.6h0M144.4 110.5h0M152.2 89.5h0M217.8 110.1h0M95.9 82.2h0M114.4 86.3h0M143.1 89.3h0M132.5 85.9h0M230.2 109.9h0M155.3 75.7h0M126.9 86.5h0M156.2 88.7h0M237.8 109.1h0M234.3 116.9h0M153.6 113.1h0M138.6 85.4h0M162.0 110.6h0M173.9 111.2h0M204.5 112.2h0M120.8 82.8h0M200.1 88.2h0M145.5 85.6h0M148.3 84.7h0M156.2 83.1h0M200.0 82.4h0M235.3 110.4h0M83.5 67.7h0M100.4 71.0h0M181.6 109.8h0M191.3 117.2h0M109.5 115.9h0M227.1 111.6h0M190.5 77.8h0M150.3 89.2h0M163.0 111.2h0M156.7 81.2h0M163.1 110.6h0M189.2 117.8h0M118.7 81.0h0M194.1 82.2h0M109.3 77.5h0M237.5 109.7h0M235.5 111.6h0M161.7 87.7h0M93.8 115.6h0M180.3 111.3h0M153.7 88.1h0M201.0 87.3h0M147.2 78.9h0M155.3 88.3h0M232.9 91.3h0M142.7 111.2h0M178.3 88.5h0M158.1 112.9h0M199.1 113.6h0M197.3 80.2h0M157.9 88.7h0M134.7 86.3h0M142.3 62.7h0M250.0 113.5h0M188.3 117.0h0M133.7 85.2h0M205.8 88.0h0M105.7 85.1h0M119.2 85.2h0M208.3 88.7h0M210.2 110.5h0M181.2 90.1h0M225.4 90.4h0M116.8 75.3h0M245.9 108.2h0M154.4 110.1h0M90.2 72.9h0M133.6 78.1h0M163.1 89.0h0M90.8 73.4h0M183.8 87.3h0M104.8 74.0h0M138.9 88.7h0M230.1 116.3h0M147.9 87.2h0M214.9 87.3h0M152.6 86.3h0M186.3 86.3h0M162.0 76.9h0M141.2 84.2h0M99.5 56.7h0M203.8 110.4h0M160.3 87.1h0M182.6 89.5h0M172.4 118.1h0M240.2 108.5h0M127.3 113.5h0M175.4 83.1h0M149.9 76.3h0M70.1 67.3h0M175.0 86.4h0" stroke="#e8200c"/><path d="M101.8 83.5h0M274.4 100.2h0M193.6 109.6h0M111.8 84.7h0M233.0 104.7h0M176.8 109.4h0M101.4 117.6h0M148.5 114.0h0M108.8 111.4h0M85.3 107.5h0M271.1 101.2h0M265.0 105.7h0M253.1 100.0h0M211.1 104.7h0M144.4 104.6h0M79.6 106.5h0M98.0 89.6h0M71.9 86.9h0M122.9 90.8h0M187.9 104.3h0M218.7 109.2h0M193.0 94.4h0M261.6 98.3h0M265.6 100.2h0M207.9 107.2h0M99.7 95.2h0M97.7 119.4h0M63.1 82.9h0M179.7 92.2h0M76.0 79.2h0M246.4 106.1h0M111.8 113.8h0M171.1 110.9h0M62.8 99.7h0M96.2 99.8h0M217.7 102.0h0M70.0 110.1h0M193.6 103.0h0M211.9 106.7h0M92.2 86.0h0M86.1 88.8h0M253.0 97.0h0M265.3 95.9h0M66.1 76.9h0M84.9 85.8h0M266.7 105.8h0M197.0 93.9h0M270.8 95.4h0M214.8 100.3h0M145.6 110.1h0M263.6 98.5h0M188.4 99.8h0M99.4 88.2h0M137.7 88.5h0M105.6 89.4h0M92.2 83.4h0M270.6 102.0h0M232.2 102.4h0M233.6 89.7h0M95.6 119.0h0M187.0 99.6h0M69.1 101.7h0M217.1 98.0h0M116.6 91.4h0M95.1 109.5h0M77.7 80.8h0M76.6 103.1h0M252.2 109.2h0M198.6 105.9h0M174.6 92.9h0M193.4 97.1h0M78.8 125.9h0M162.2 98.7h0M68.3 65.5h0M196.8 89.5h0M70.2 71.7h0M131.3 94.9h0M236.2 94.2h0M121.4 86.9h0M65.1 110.8h0M63.9 80.7h0M84.1 105.2h0M123.8 110.5h0M131.6 113.2h0M70.5 102.7h0M133.4 109.1h0M65.7 80.8h0M96.5 93.1h0M125.4 101.7h0M193.2 89.3h0M61.3 118.7h0M228.6 108.4h0M257.6 94.1h0M89.2 85.4h0M172.5 92.2h0M84.2 114.5h0M69.6 106.3h0M126.4 91.3h0M100.6 118.5h0M142.5 87.4h0M126.3 89.2h0M272.6 98.5h0M164.3 97.4h0M100.8 92.8h0M116.3 115.8h0M280.1 99.7h0M87.0 88.7h0M148.1 100.5h0M78.8 115.7h0M189.8 102.2h0M193.3 89.4h0M236.2 100.5h0M250.4 92.5h0M174.0 89.0h0M210.2 102.4h0M125.3 87.8h0M214.2 102.5h0M182.3 96.0h0M135.9 112.8h0M96.2 104.5h0M98.2 93.5h0M75.3 70.6h0M75.5 85.9h0M96.7 89.7h0M213.3 92.9h0M87.6 78.1h0M251.0 100.1h0M73.9 89.5h0M88.1 109.7h0M87.0 108.4h0M236.1 101.2h0M88.0 88.4h0M86.4 89.9h0M66.8 89.4h0M136.3 125.8h0M252.9 90.4h0M169.6 95.5h0M110.4 91.2h0M239.3 91.2h0M176.3 94.8h0M169.2 108.7h0M120.5 101.3h0M60.4 98.2h0M255.6 105.3h0M70.2 66.0h0M222.1 106.9h0M84.7 79.6h0M164.5 102.6h0M175.5 97.2h0M259.0 91.8h0M258.6 95.1h0M154.4 113.2h0M69.2 125.6h0M148.7 88.9h0M187.8 99.2h0M70.4 118.4h0M252.5 105.2h0M125.5 104.6h0M80.1 77.9h0M182.0 98.8h0M100.5 89.1h0M83.5 96.6h0M284.6 95.6h0M61.8 88.5h0M61.8 81.9h0M194.8 102.0h0M235.8 104.9h0M274.4 106.4h0M76.4 104.6h0M81.0 110.1h0M127.7 89.0h0M104.2 119.0h0M84.7 123.9h0M130.0 98.3h0M191.3 108.9h0M261.7 109.7h0M109.2 86.1h0M93.8 81.0h0M264.4 95.9h0M161.0 95.6h0M189.8 102.1h0M60.8 80.6h0M192.6 100.9h0M254.8 108.2h0M108.5 89.1h0M69.1 110.0h0M59.7 88.2h0M134.0 98.9h0M125.5 90.6h0M131.2 92.5h0M124.8 114.9h0M233.0 103.7h0M207.6 97.7h0M217.2 108.3h0M266.2 101.6h0M209.3 97.3h0M60.9 105.0h0M98.0 129.0h0M207.6 105.9h0M220.7 94.6h0M269.2 102.0h0M147.1 89.9h0M94.3 80.4h0M98.4 111.4h0M103.8 113.0h0M180.4 97.6h0M238.5 104.7h0M70.1 75.5h0M260.4 99.2h0M240.9 90.9h0M175.3 100.4h0M62.0 115.4h0M282.3 101.6h0M110.5 92.4h0M163.1 104.0h0M206.0 110.0h0M114.5 109.9h0M257.5 104.2h0M78.4 81.5h0M89.2 104.8h0M113.4 85.6h0M96.2 83.1h0M147.1 90.8h0M161.2 103.2h0M76.3 112.6h0M174.0 106.6h0M63.2 117.3h0M62.0 81.1h0M66.1 106.6h0M126.0 109.0h0M116.4 114.3h0M218.8 101.1h0M211.7 109.2h0M196.0 96.7h0M97.6 94.0h0M71.5 65.7h0M274.8 97.3h0M209.1 106.2h0M80.7 84.2h0M182.7 93.5h0M198.5 97.4h0M121.0 102.6h0M247.5 105.2h0M201.0 101.2h0M136.5 89.6h0M120.3 82.0h0M144.8 98.1h0M274.9 100.9h0M154.4 97.9h0M111.3 101.5h0M94.5 87.6h0M81.4 78.6h0M101.7 124.3h0M105.9 90.5h0M106.7 82.2h0M79.9 115.6h0M259.3 107.8h0M139.6 108.6h0M246.7 95.0h0M112.7 102.5h0M158.1 100.0h0M266.3 102.5h0M94.7 89.9h0M85.3 79.8h0M100.9 78.4h0M129.9 108.0h0M255.3 102.0h0M82.6 117.5h0M85.2 84.8h0M82.9 112.9h0M286.2 99.5h0M250.8 99.2h0M73.9 105.8h0M162.0 99.1h0M128.7 118.1h0M61.7 84.6h0M105.9 115.8h0M173.4 109.7h0M103.1 96.8h0M189.4 108.4h0M115.9 107.9h0M78.4 121.1h0M86.7 85.2h0M172.8 108.1h0M105.8 108.5h0M244.2 92.2h0M103.5 79.5h0M175.7 91.0h0M137.2 113.4h0M101.8 88.8h0M225.6 108.6h0M67.0 122.7h0M193.4 97.5h0M79.6 84.4h0M168.2 108.8h0M115.5 88.4h0M185.7 95.5h0M248.1 106.4h0M132.3 111.3h0M92.3 114.6h0M67.7 112.4h0M258.5 102.1h0M231.8 95.7h0M79.9 111.7h0M119.9 84.4h0M130.5 108.9h0M112.1 108.2h0M111.1 88.2h0M179.1 102.2h0M61.9 120.5h0M112.4 85.5h0M251.6 97.6h0M68.5 71.6h0M102.6 113.5h0M80.2 87.7h0M83.3 93.5h0M197.3 108.2h0M264.9 98.1h0M71.5 71.3h0M68.7 77.6h0M171.7 90.1h0M184.3 99.6h0M66.0 72.4h0M250.0 97.9h0M108.3 109.0h0M132.1 90.6h0M101.4 106.3h0M235.5 97.9h0M259.4 106.9h0M204.0 108.7h0M122.7 107.5h0M179.6 89.5h0M248.4 101.4h0M74.2 87.7h0M139.2 104.4h0M110.7 127.1h0M80.7 114.3h0M133.3 89.2h0M243.4 98.1h0M77.6 80.9h0M72.0 81.7h0M67.6 73.1h0M244.2 101.0h0M163.8 105.9h0M218.7 103.2h0M141.1 108.7h0M61.5 103.3h0M262.6 99.9h0M81.3 106.2h0M248.8 103.8h0M168.6 108.4h0M232.4 108.3h0M118.0 87.5h0M138.6 106.2h0M131.0 111.8h0M62.9 100.4h0M67.2 87.4h0M178.1 108.3h0M116.4 87.4h0M251.9 105.0h0M87.8 83.3h0M263.1 95.9h0M121.9 98.0h0M248.7 94.5h0M224.4 94.9h0M61.0 108.9h0M80.8 115.7h0M65.5 73.6h0M214.7 97.7h0M139.6 102.1h0M262.0 104.5h0M259.2 106.0h0M81.4 114.3h0M157.9 106.5h0M120.1 89.4h0M95.2 110.3h0M122.1 85.4h0M95.8 108.1h0M181.4 88.5h0M208.7 109.7h0M76.9 126.5h0M80.1 84.8h0M115.6 111.6h0M229.9 90.6h0M61.3 112.0h0M68.8 117.6h0M139.1 91.8h0M114.8 84.1h0M127.1 87.9h0M98.7 116.8h0M249.9 101.8h0M57.4 118.4h0M129.0 110.1h0M70.4 96.8h0M68.9 78.7h0M131.3 108.2h0M206.4 95.1h0M95.0 81.7h0M119.9 92.6h0M110.9 86.7h0M93.7 80.4h0M95.8 78.2h0M171.6 89.2h0M187.7 88.2h0M135.2 108.8h0M98.3 92.1h0M69.6 72.7h0M166.6 106.8h0M96.7 115.9h0M243.2 104.0h0M113.1 87.0h0M219.2 106.2h0M273.3 100.6h0M236.7 93.3h0M122.7 113.4h0M237.3 97.3h0M163.2 102.0h0M81.4 116.9h0M95.9 104.0h0M239.6 96.7h0M245.1 103.7h0M72.7 111.7h0M83.6 72.8h0M143.2 107.5h0M281.8 102.7h0M228.2 94.5h0M264.5 97.4h0M65.7 83.3h0M247.3 104.2h0M108.3 109.5h0M61.2 84.4h0M161.1 89.9h0M69.0 110.1h0M60.7 92.4h0M101.9 106.2h0M194.3 104.8h0M63.7 75.5h0M266.2 102.1h0M125.1 90.0h0M224.8 93.8h0M172.9 108.2h0M83.5 110.7h0M67.6 88.2h0M255.9 107.2h0M147.3 107.0h0M130.8 106.8h0M86.0 111.9h0M66.1 96.1h0M219.1 100.7h0M125.6 109.3h0M180.4 90.0h0M82.6 76.4h0M155.9 108.5h0M223.5 107.8h0M148.3 108.5h0M84.3 117.0h0M90.1 87.6h0M118.0 111.4h0M80.2 101.5h0M230.5 108.0h0M111.2 90.1h0M94.9 119.8h0M89.0 80.5h0M115.3 112.5h0M242.8 104.3h0M74.6 128.7h0M147.9 105.1h0M133.6 107.5h0M91.2 111.2h0M247.3 101.0h0M261.6 99.3h0M103.0 110.2h0M165.7 107.0h0M170.8 98.0h0M185.6 99.4h0M64.1 113.5h0M249.4 109.1h0M216.9 89.6h0M64.0 73.7h0M89.2 81.1h0M215.1 90.4h0M83.8 83.9h0M94.3 109.0h0M183.3 108.1h0M233.7 95.5h0M246.2 103.1h0M80.9 94.3h0M238.0 94.0h0M73.9 78.3h0M66.2 111.5h0M205.1 91.5h0M154.5 91.7h0M245.5 102.3h0M61.6 92.2h0M264.1 97.7h0M61.7 112.3h0M93.8 86.1h0M225.4 89.9h0M212.7 97.5h0M166.1 93.4h0M172.1 92.7h0M140.3 120.7h0M76.3 88.0h0M183.5 87.2h0M106.6 120.6h0M240.5 102.5h0M88.9 80.0h0M139.4 88.4h0M189.5 108.0h0M281.5 101.5h0M200.1 89.7h0M216.3 104.7h0M186.3 99.7h0M270.6 98.6h0M155.8 103.4h0M179.6 90.2h0M254.7 106.5h0M79.0 115.2h0M121.2 110.2h0M249.5 98.1h0M187.3 97.6h0M243.1 101.0h0M119.5 112.9h0M137.7 91.5h0M246.3 96.6h0M233.7 97.7h0M172.0 102.5h0M74.0 88.3h0M75.4 110.0h0M209.0 107.7h0M115.4 103.7h0M247.4 99.9h0M78.2 116.6h0M111.1 114.1h0M108.7 113.9h0M261.2 98.2h0M85.2 86.1h0M252.0 108.1h0M137.7 88.5h0M84.3 119.4h0M172.9 89.8h0M129.8 111.8h0M75.2 116.2h0M91.9 88.8h0M258.2 102.8h0M152.8 87.9h0M117.2 89.1h0M257.9 91.6h0M213.2 99.7h0M113.8 108.7h0M68.1 83.1h0M160.9 109.7h0M214.1 104.9h0M279.1 100.6h0M247.3 104.8h0M247.1 94.3h0M253.9 104.6h0M94.2 79.0h0M89.5 108.8h0M262.2 95.4h0M193.1 88.4h0M181.6 106.2h0M252.4 103.0h0M262.1 102.1h0M185.2 100.1h0M244.1 99.7h0M154.0 90.9h0M63.4 97.1h0M95.8 86.5h0M103.3 89.1h0M72.3 125.0h0M123.3 89.9h0M108.7 83.1h0M247.4 102.7h0M277.2 103.1h0M186.8 110.5h0M157.6 88.2h0M179.1 95.8h0M226.5 97.5h0M66.4 85.8h0M63.3 75.8h0M71.8 78.2h0M97.0 109.0h0M174.8 97.7h0M77.9 86.0h0M254.6 104.2h0M218.9 97.8h0M170.6 110.2h0M254.4 102.4h0M173.1 108.0h0M145.5 124.1h0M251.6 93.0h0M209.5 107.7h0M234.8 100.4h0M248.4 94.1h0M95.4 122.2h0M80.8 78.2h0M163.0 91.4h0M110.9 89.4h0M122.7 93.0h0M84.5 110.9h0M185.1 94.5h0M130.4 94.1h0M151.6 108.2h0M135.5 105.6h0M265.1 96.4h0M234.6 102.6h0M286.9 99.5h0M100.0 99.4h0M286.8 100.3h0M130.3 90.2h0M84.2 123.8h0M231.9 98.2h0M64.2 81.0h0M131.6 114.7h0M121.2 109.7h0M199.3 92.9h0M187.2 105.1h0M147.1 109.5h0M89.5 79.7h0M79.8 118.1h0M115.7 89.1h0M62.5 96.8h0M125.2 98.2h0M71.6 111.0h0M62.0 79.2h0M165.8 102.9h0M64.5 108.8h0M124.9 110.6h0M189.0 103.1h0M72.6 71.1h0M184.7 100.5h0M100.8 128.9h0M164.4 96.3h0M111.9 83.7h0M121.6 103.9h0M113.7 107.8h0M72.7 117.0h0M74.1 113.2h0M231.3 94.4h0M156.2 101.9h0M276.6 97.8h0M111.0 111.3h0M67.6 121.6h0M171.1 108.6h0M259.2 106.3h0M101.8 88.5h0M98.8 82.7h0M104.9 115.2h0M69.1 111.2h0M265.8 101.7h0M66.6 65.4h0M182.1 100.4h0M254.9 106.6h0M64.8 76.2h0M201.0 107.2h0M115.6 112.1h0M214.4 92.6h0M63.8 123.0h0M82.2 120.3h0M100.0 93.0h0M61.5 117.7h0M79.8 81.5h0M148.9 111.9h0M195.8 97.3h0M103.8 108.1h0M200.9 101.1h0M262.0 99.9h0M212.1 107.6h0M110.1 89.7h0M70.2 77.5h0M221.7 104.7h0M94.2 96.2h0M85.0 112.4h0M207.4 103.6h0M65.3 88.6h0M223.3 92.7h0M61.9 118.1h0M101.0 117.5h0M272.6 104.2h0M186.3 102.9h0M62.7 83.5h0M94.7 93.9h0M263.7 102.3h0M114.4 87.8h0M60.5 104.4h0M114.3 86.1h0M73.8 89.7h0M134.4 99.2h0M65.9 84.0h0M87.7 110.7h0M134.5 107.7h0M62.6 97.6h0M149.4 104.2h0M85.3 115.6h0M135.5 88.3h0M77.7 110.7h0M141.0 100.3h0M215.2 108.1h0M249.3 103.2h0M155.6 106.3h0M61.2 94.1h0M223.5 101.9h0M222.7 95.3h0M115.0 86.8h0M236.7 103.2h0M262.9 99.0h0M171.2 97.1h0M147.2 109.8h0M256.4 102.3h0M248.2 105.4h0M107.9 87.3h0M86.6 79.4h0M185.4 107.3h0M70.1 79.4h0M180.3 96.0h0M198.8 104.8h0M120.4 99.1h0M116.9 88.9h0M262.6 102.3h0M138.9 87.5h0M225.5 105.8h0M79.5 94.1h0M91.9 86.7h0M68.3 111.6h0M198.6 99.7h0M101.8 88.7h0M73.9 86.0h0M99.8 108.3h0M249.0 102.8h0M126.9 88.4h0M150.7 103.2h0M261.0 102.2h0M246.8 99.2h0M246.2 103.8h0M238.1 105.2h0M169.4 107.4h0M91.2 100.8h0M96.1 99.0h0M82.7 82.9h0M178.9 95.8h0M79.2 77.3h0M57.9 85.0h0M108.4 89.5h0M157.8 93.5h0M261.4 94.5h0M62.0 90.4h0M86.0 123.4h0M175.4 93.9h0M60.4 120.9h0M97.8 115.6h0M258.8 99.7h0M147.8 120.6h0M102.5 83.1h0M131.0 109.9h0M128.1 85.5h0M62.7 71.6h0M65.8 81.7h0M167.6 94.3h0M133.1 90.3h0M118.5 110.7h0M123.3 109.9h0M215.1 94.4h0M130.5 108.8h0M114.3 86.6h0M73.3 97.9h0M127.4 101.3h0M250.2 94.2h0M145.7 96.8h0M180.4 89.3h0M227.6 92.4h0M65.5 121.6h0M186.1 105.4h0M94.2 118.1h0M113.8 85.3h0M73.6 111.1h0M225.1 105.8h0M78.0 81.0h0M141.2 88.3h0M164.3 108.9h0M228.2 90.6h0M188.5 90.1h0M85.6 83.9h0M128.5 112.8h0M252.2 97.3h0M181.3 100.0h0M188.5 108.1h0M70.5 68.0h0M281.2 97.8h0M121.5 111.9h0M255.3 103.0h0M184.9 98.0h0M131.1 89.0h0M64.1 83.4h0M251.9 94.5h0M103.7 82.6h0M83.8 96.9h0M62.5 117.2h0M112.5 104.9h0M230.0 101.3h0M254.7 103.0h0M228.4 107.5h0M185.8 98.3h0M72.3 73.7h0M133.7 111.0h0M113.9 97.1h0M191.8 94.3h0M249.3 109.2h0M174.6 107.0h0M196.3 106.0h0M252.3 96.5h0M260.8 96.5h0M90.9 110.9h0M60.7 77.6h0M211.3 99.0h0M61.5 103.9h0M260.2 103.0h0M185.8 108.3h0M158.4 93.3h0M61.9 106.5h0M256.7 101.6h0M83.4 83.7h0M119.3 111.9h0M171.7 108.6h0M80.1 80.1h0M248.5 96.1h0M110.3 85.2h0M68.4 80.8h0M254.3 102.4h0M214.9 96.4h0M102.7 84.0h0M207.7 91.1h0M78.3 80.7h0M112.8 98.2h0M118.3 110.7h0M261.1 96.4h0M85.0 107.1h0M162.8 89.0h0M67.1 109.8h0M90.9 83.4h0M101.4 118.0h0M255.6 99.8h0M96.6 114.7h0M275.4 97.1h0M212.3 97.9h0M64.2 125.2h0M86.5 85.5h0M257.4 108.2h0M142.4 89.4h0M61.4 100.4h0M77.8 116.0h0M88.5 124.4h0M170.1 100.4h0M80.1 120.2h0M139.8 104.5h0M105.0 99.8h0M218.9 97.2h0M151.3 86.2h0M248.8 95.7h0M79.7 85.0h0M94.0 111.1h0M181.5 89.7h0M253.2 99.2h0M111.9 105.4h0M81.5 117.4h0M79.2 78.7h0M259.3 103.5h0M140.3 89.2h0M207.1 90.6h0M235.1 95.8h0M89.2 84.1h0M82.2 112.4h0M217.3 109.2h0M225.5 107.1h0M71.2 73.8h0M70.6 79.5h0M178.6 110.0h0M67.4 117.1h0M162.1 95.9h0M127.7 107.2h0M161.7 87.8h0M90.8 94.3h0M121.9 89.8h0M158.9 106.1h0M61.3 115.6h0M99.0 100.1h0M270.2 103.5h0M116.0 110.0h0M288.0 91.7h0M223.3 108.4h0M125.7 110.0h0M67.5 77.0h0M258.7 98.2h0M237.4 93.5h0M76.5 84.6h0M191.2 95.9h0M236.2 109.1h0M97.7 116.5h0M261.0 98.1h0M105.1 107.1h0M230.4 93.4h0M223.7 105.2h0M128.3 89.9h0M135.6 108.7h0M84.0 79.6h0M247.2 92.1h0M104.4 100.1h0M272.7 100.6h0M64.0 69.3h0M218.5 106.3h0M272.1 108.6h0M72.9 108.0h0M114.4 110.1h0M183.3 90.0h0M99.3 85.1h0M246.2 94.9h0M232.2 95.1h0" stroke="#000"/><path d="M161.3 85.7h0M137.3 79.6h0M189.1 88.1h0M194.2 116.6h0M83.9 72.2h0M169.7 81.7h0M186.2 121.7h0M132.0 69.1h0M188.7 89.6h0M217.5 88.6h0M186.0 89.7h0M181.1 86.7h0M225.0 114.1h0M168.7 119.1h0M146.5 86.2h0M163.4 113.4h0M143.9 120.3h0M245.3 112.2h0M108.6 83.7h0M221.9 83.9h0M189.2 89.4h0M120.7 112.1h0M125.6 85.4h0M246.1 118.8h0M154.3 89.4h0M99.2 77.2h0M112.3 115.8h0M164.9 87.1h0M61.3 61.2h0M173.4 114.1h0M150.5 89.5h0M185.2 88.9h0M238.2 110.9h0M184.8 112.9h0M135.7 88.1h0M203.5 111.5h0M210.0 84.8h0M166.9 87.2h0M153.2 111.5h0M146.7 81.3h0M237.3 109.3h0M186.9 84.8h0M229.0 117.0h0M180.1 76.4h0M130.2 74.8h0M174.5 83.8h0M200.6 80.1h0M133.2 86.7h0M200.8 90.0h0M167.5 89.4h0M147.5 87.8h0M136.4 83.7h0M158.7 112.6h0M144.3 119.9h0M160.0 112.8h0M142.1 112.5h0M107.7 70.8h0M167.0 87.3h0M176.8 112.3h0M90.4 59.2h0M91.9 65.4h0M189.9 114.1h0M98.0 81.5h0M129.8 83.8h0M125.0 82.1h0M155.1 87.9h0M106.4 66.3h0M173.0 116.7h0M231.2 112.2h0M104.7 69.5h0M127.8 75.7h0M132.3 78.8h0M218.9 89.4h0M95.6 76.4h0M227.7 86.4h0M135.9 83.7h0M93.0 76.6h0M63.9 65.2h0M188.3 115.0h0M177.3 114.7h0M238.3 112.3h0M128.8 85.0h0M215.2 90.8h0M103.8 82.0h0M173.1 112.5h0M238.4 110.8h0M107.0 65.3h0M198.1 109.4h0M187.6 89.8h0M215.4 113.5h0M199.1 89.8h0M219.2 89.9h0M133.6 80.6h0M182.2 88.4h0M238.7 91.0h0M107.1 81.4h0M144.1 63.9h0M116.3 86.1h0M138.9 84.2h0M101.9 78.8h0M166.6 114.4h0M114.0 86.3h0M158.2 88.2h0M197.2 83.8h0M190.8 87.4h0M222.6 84.8h0M119.8 112.6h0M194.2 88.1h0M117.1 125.4h0M199.0 84.2h0M188.1 110.3h0M116.7 75.3h0M128.4 64.0h0M200.9 111.7h0M76.7 69.2h0M229.6 78.8h0M83.7 68.6h0M193.1 88.4h0M78.5 69.7h0M164.1 88.3h0M161.1 89.6h0M180.8 114.6h0M247.0 114.1h0M242.4 110.2h0M154.5 85.7h0M76.7 54.3h0M95.5 79.7h0M167.7 82.4h0M175.3 110.5h0M190.4 80.5h0M193.3 85.0h0M98.1 125.2h0M172.3 85.4h0M251.4 113.4h0M199.3 89.6h0M162.5 88.2h0M234.6 113.1h0M211.7 88.3h0M106.9 82.7h0M172.6 84.7h0M180.0 86.8h0M192.3 110.1h0M61.4 59.8h0M209.5 89.7h0M141.4 84.8h0M103.9 81.3h0M155.3 120.2h0M137.4 73.1h0M183.1 84.5h0M112.8 77.4h0M225.1 90.5h0M134.2 82.9h0M180.3 110.1h0M204.5 85.8h0M177.6 110.5h0M272.5 108.2h0M140.1 116.7h0M69.7 64.0h0M189.1 116.3h0M185.0 87.2h0M238.0 112.8h0M157.0 89.6h0M209.8 83.2h0M162.1 112.6h0M232.5 90.5h0M191.5 119.6h0M224.3 110.6h0M121.0 84.6h0M175.4 110.1h0M127.6 115.9h0M220.7 109.2h0M184.4 86.8h0M179.9 90.0h0M132.6 85.0h0M226.3 113.2h0M165.6 84.7h0M126.2 88.3h0M117.0 68.1h0M160.8 86.2h0M162.5 85.5h0M125.0 79.5h0M185.2 111.3h0M215.3 90.3h0M168.9 88.1h0M132.8 88.2h0M208.1 112.5h0M121.3 82.6h0M146.9 86.0h0M122.1 86.6h0M154.5 73.4h0M229.9 110.0h0M81.9 70.8h0M99.8 77.3h0M189.1 114.2h0M230.4 110.9h0M166.4 77.6h0M108.0 119.5h0M198.5 110.1h0M204.2 115.1h0M107.1 61.3h0M111.3 83.8h0M123.1 112.5h0M91.8 66.7h0M59.3 74.2h0M211.9 88.8h0M240.9 113.5h0M97.8 83.0h0M178.4 110.9h0M162.4 110.0h0M178.5 86.2h0M143.5 115.4h0M174.0 109.9h0M78.8 71.1h0M108.3 121.2h0M112.6 126.5h0M138.0 115.3h0M185.7 87.8h0M242.4 111.2h0M209.7 85.5h0M163.4 88.2h0M167.7 110.2h0M90.0 51.4h0M205.8 90.2h0M89.9 80.4h0M102.5 83.4h0M241.0 111.8h0M263.3 106.6h0M112.1 73.9h0M196.8 86.7h0M218.6 111.8h0M201.7 113.5h0M146.0 62.9h0M90.4 67.0h0M202.9 109.4h0M135.6 83.3h0M226.3 85.0h0M189.7 85.6h0M188.2 82.5h0M232.8 110.0h0M185.9 87.4h0M165.4 89.6h0M106.0 74.2h0M95.5 75.6h0M175.6 89.4h0M221.4 115.3h0M149.9 89.6h0M217.4 109.7h0M109.2 81.9h0M162.9 89.4h0M173.1 82.4h0M136.2 63.1h0M151.2 83.0h0M184.4 110.0h0M205.4 87.6h0M268.4 116.2h0M115.1 129.3h0M229.5 111.2h0M186.0 110.8h0M185.5 111.8h0M79.6 44.6h0M69.9 51.7h0M145.9 86.5h0M178.5 85.4h0M112.9 84.3h0M170.1 123.7h0M217.5 89.6h0M109.0 117.9h0M146.3 83.9h0M113.9 73.7h0M181.8 83.8h0M243.4 110.7h0M161.3 79.4h0M146.8 111.8h0M209.8 109.3h0M142.1 87.5h0M175.9 115.4h0M216.9 86.6h0M96.2 74.5h0M193.2 112.8h0M252.9 108.7h0" stroke="#e8200c"/><path d="M125.0 119.0h0M209.4 99.3h0M177.6 95.7h0M133.4 106.2h0M147.6 125.2h0M174.0 92.6h0M159.6 96.0h0M61.7 80.6h0M131.9 108.7h0M181.1 88.6h0M256.2 98.8h0M212.8 97.6h0M68.5 112.1h0M149.7 105.3h0M149.8 96.1h0M82.4 99.4h0M203.9 104.0h0M278.6 101.4h0M200.2 88.4h0M119.7 120.0h0M86.6 108.5h0M168.8 100.6h0M66.5 79.2h0M209.6 103.2h0M156.4 110.2h0M159.7 105.1h0M67.6 70.8h0M169.3 107.2h0M96.0 87.0h0M61.9 118.5h0M265.5 96.1h0M193.8 89.1h0M98.9 86.0h0M249.0 100.2h0M63.9 89.6h0M168.1 100.9h0M94.4 112.2h0M259.7 93.2h0M141.1 109.9h0M125.9 88.4h0M134.6 100.0h0M158.3 88.8h0M217.5 103.9h0M251.2 98.7h0M82.7 85.1h0M162.1 102.0h0M253.5 102.0h0M63.9 71.5h0M84.2 84.1h0M67.8 82.7h0M223.3 91.3h0M257.6 111.0h0M166.7 98.9h0M218.2 95.9h0M75.6 72.1h0M79.1 114.8h0M112.2 113.6h0M175.5 96.1h0M124.4 103.5h0M95.5 75.8h0M76.2 103.9h0M279.2 96.2h0M97.7 86.6h0M85.4 71.8h0M101.0 86.6h0M101.3 86.0h0M70.8 88.4h0M194.9 99.3h0M127.8 112.1h0M210.0 102.5h0M174.0 89.4h0M148.0 100.8h0M62.1 74.7h0M256.1 107.7h0M190.5 109.6h0M75.2 116.3h0M109.4 97.1h0M90.5 88.2h0M81.0 113.3h0M62.6 103.1h0M76.1 75.9h0M71.3 89.1h0M201.2 101.6h0M179.4 89.9h0M260.4 108.1h0M203.5 90.3h0M177.9 97.2h0M77.1 119.4h0M116.4 92.7h0M131.3 98.1h0M179.9 98.3h0M73.2 111.5h0M72.5 75.7h0M239.7 101.5h0M65.4 111.6h0M246.1 93.3h0M265.4 104.9h0M68.7 87.6h0M264.7 95.8h0M78.8 78.8h0M62.8 86.6h0M147.3 102.0h0M162.1 108.5h0M264.4 96.5h0M128.1 105.4h0M216.1 109.0h0M264.4 104.4h0M61.8 89.2h0M143.8 94.2h0M193.1 98.7h0M128.9 108.6h0M120.8 91.4h0M229.6 98.6h0M102.2 109.4h0M182.7 97.5h0M89.6 85.6h0M282.0 105.6h0M75.5 84.9h0M111.1 93.7h0M164.6 89.3h0M145.1 87.3h0M258.7 95.4h0M132.8 103.5h0M115.7 109.3h0M152.1 104.5h0M181.6 99.2h0M262.1 91.9h0M74.4 110.0h0M100.7 111.8h0M237.2 93.2h0M60.4 113.3h0M79.4 87.4h0M73.7 73.6h0M267.1 96.9h0M234.1 106.9h0M80.9 95.1h0M283.8 99.1h0M138.6 95.4h0M61.6 81.8h0M153.0 110.1h0M151.9 110.5h0M90.0 109.4h0M75.1 77.8h0M254.9 111.6h0M111.2 117.6h0M275.5 89.8h0M104.2 114.3h0M129.7 88.4h0M162.9 100.4h0M155.0 105.2h0M266.2 94.3h0M250.7 92.5h0M214.1 106.3h0M108.3 79.1h0M79.3 112.2h0M109.6 112.6h0M71.9 78.9h0M62.0 121.1h0M244.5 103.8h0M229.8 95.8h0M120.5 87.1h0M60.3 108.4h0M116.7 109.9h0M250.1 102.8h0M138.8 96.1h0M80.0 111.3h0M81.9 114.5h0M129.0 90.7h0M95.5 82.6h0M108.6 103.3h0M227.0 93.8h0M266.8 96.0h0M162.3 97.7h0M265.0 108.8h0M207.2 91.0h0M117.7 86.2h0M281.1 102.7h0M92.3 112.0h0M109.2 102.2h0M74.9 119.2h0M163.1 104.6h0M264.3 98.5h0M177.2 89.3h0M83.5 111.7h0M203.6 95.1h0M79.6 76.8h0M150.1 87.3h0M62.4 85.4h0M227.2 102.3h0M99.1 123.5h0M108.2 107.1h0M123.9 105.4h0M106.0 102.6h0M77.3 82.4h0M122.0 105.9h0M157.6 96.0h0M135.6 103.9h0M81.4 92.5h0M257.6 101.0h0M234.3 95.4h0M123.3 91.0h0M237.9 96.9h0M104.3 99.4h0M253.4 92.6h0M204.4 99.7h0M98.8 84.4h0M62.9 73.5h0M62.0 98.0h0M102.0 93.6h0M163.0 92.9h0M72.3 79.6h0M89.6 85.7h0M114.1 86.7h0M88.7 87.0h0M206.7 108.9h0M164.4 98.5h0M250.0 95.1h0M197.5 91.2h0M243.4 103.8h0M279.2 97.8h0M118.8 122.2h0M204.9 94.1h0M138.9 100.0h0M94.8 109.9h0M138.5 90.2h0M126.5 86.9h0M97.5 112.3h0M88.6 110.9h0M254.8 104.7h0M71.3 74.2h0M250.1 91.5h0M255.3 100.8h0M103.9 83.8h0M170.8 101.5h0M63.1 85.9h0M234.8 102.7h0M220.0 109.1h0M128.5 111.0h0M243.8 107.6h0M110.2 89.5h0M259.2 102.6h0M142.9 94.2h0M77.4 120.1h0M123.8 89.0h0M69.8 106.2h0M219.4 94.0h0M94.3 88.4h0M180.3 87.9h0M162.4 108.9h0M129.0 95.7h0M136.3 92.6h0M210.6 97.3h0M144.0 92.3h0M150.1 95.0h0M85.0 95.1h0M69.0 73.3h0M257.1 102.2h0M132.1 88.1h0M232.4 102.1h0M283.4 99.7h0M150.1 95.4h0M122.5 118.3h0M262.9 96.3h0M136.7 113.1h0M246.1 106.7h0M124.0 92.5h0M241.5 99.3h0M198.4 98.6h0M90.4 121.2h0M115.6 87.1h0M245.1 101.5h0M255.0 93.1h0M236.3 92.1h0M110.3 85.9h0M185.4 102.9h0M123.5 105.4h0M153.2 90.2h0M144.3 88.1h0M258.8 102.3h0M85.3 99.2h0M190.2 109.0h0M133.9 97.0h0M90.3 86.4h0M258.3 101.3h0M184.9 108.1h0M160.5 117.0h0M64.1 95.4h0M241.5 108.3h0M116.1 107.1h0M70.2 80.4h0M61.3 101.6h0M88.4 79.4h0M175.7 88.6h0M257.3 97.2h0M129.3 101.1h0M211.1 96.1h0M113.3 119.0h0M61.6 106.9h0M221.1 94.5h0M178.7 106.4h0M133.5 85.5h0M257.0 95.9h0M123.1 95.5h0M145.8 103.5h0M70.5 76.7h0M229.9 90.0h0M238.1 100.6h0M243.8 99.5h0M270.2 99.1h0M70.9 84.4h0M250.0 99.1h0M280.2 99.4h0M106.3 110.4h0M142.0 106.0h0M85.1 83.8h0M147.3 104.7h0M201.9 89.8h0M174.8 98.7h0M60.2 121.4h0M105.8 84.5h0M84.6 86.8h0M58.2 84.0h0M248.5 94.6h0M165.0 98.7h0M136.5 112.2h0M74.8 103.9h0M66.0 115.8h0M254.9 105.9h0M151.3 102.7h0M131.7 107.9h0M252.8 92.7h0M61.4 117.6h0M223.5 108.6h0M197.3 100.7h0M240.2 109.4h0M112.8 89.1h0M197.0 89.7h0M215.2 104.2h0M85.7 79.9h0M151.9 91.0h0M60.5 88.7h0M141.0 103.8h0M138.4 109.2h0M100.8 86.6h0M141.8 117.5h0M103.6 87.9h0M121.3 93.3h0M183.3 99.5h0M260.1 100.6h0M275.8 99.9h0M152.1 89.5h0M123.1 110.3h0M161.9 89.0h0M227.8 98.5h0M227.4 107.2h0M173.7 108.7h0M133.5 96.7h0M173.0 102.8h0M123.0 109.6h0M182.2 95.7h0M196.5 108.4h0M98.8 118.3h0M117.6 97.7h0M251.4 99.6h0M202.8 108.0h0M72.5 77.0h0M258.6 106.5h0M254.4 109.8h0M113.3 87.0h0M109.8 110.8h0M160.6 91.4h0M85.8 85.0h0M180.3 108.4h0M114.5 98.1h0M69.3 119.9h0M86.2 107.7h0M70.2 110.1h0M75.6 89.3h0M119.2 108.0h0M71.1 85.2h0M91.9 110.5h0M246.1 105.6h0M62.2 128.8h0M105.0 94.8h0M139.8 102.9h0M62.1 88.3h0M139.7 107.2h0M254.6 92.9h0M82.1 89.6h0M279.9 103.9h0M129.9 86.6h0M286.4 102.6h0M161.7 92.6h0M130.9 111.5h0M144.9 103.2h0M247.8 106.1h0M284.1 99.6h0M173.7 98.4h0M215.1 103.7h0M165.6 90.6h0M210.7 110.0h0M170.0 97.2h0M66.3 75.3h0M209.7 90.3h0M69.5 81.0h0M215.8 101.1h0M85.8 83.2h0M180.5 95.7h0M161.7 91.8h0M224.2 105.0h0M130.2 109.1h0M176.6 88.4h0M74.3 117.2h0M93.3 108.7h0M70.5 84.3h0M197.2 109.1h0M158.0 103.9h0M261.1 98.7h0M117.3 93.3h0M83.4 108.7h0M101.3 98.4h0M255.5 95.7h0M144.1 93.9h0M78.4 113.5h0M257.8 101.7h0M76.1 67.7h0M165.6 102.2h0M285.5 98.2h0M252.3 100.3h0M69.0 78.6h0M189.2 108.6h0M246.0 103.2h0M75.4 81.2h0M224.7 93.7h0M90.7 82.2h0M128.7 87.3h0M254.8 101.1h0M109.9 120.2h0M112.4 108.0h0M259.5 105.3h0M253.0 91.1h0M81.7 83.7h0M126.5 111.7h0M112.1 83.4h0M170.8 98.3h0M232.4 104.4h0M104.8 111.9h0M98.3 111.2h0M61.3 82.3h0M131.7 104.8h0M184.1 108.7h0M104.4 123.1h0M180.1 93.7h0M225.9 108.4h0M267.1 106.2h0M247.9 108.3h0M137.7 99.2h0M126.7 103.4h0M111.9 104.1h0M177.2 100.4h0M265.8 98.5h0M139.6 118.8h0M66.7 85.3h0M86.5 115.0h0M248.8 99.5h0M204.8 99.6h0M153.8 91.7h0M206.5 108.2h0M93.8 84.4h0M271.1 108.8h0M277.4 107.9h0M86.9 81.4h0M216.2 104.0h0M77.9 87.5h0M244.9 97.6h0M67.7 116.4h0M107.8 109.7h0M105.3 84.9h0M140.9 87.5h0M97.9 112.3h0M134.5 122.1h0M108.3 93.0h0M75.8 75.1h0M144.2 91.2h0M125.0 88.4h0M87.8 77.3h0M115.4 117.5h0M114.0 109.6h0M96.5 75.4h0M224.6 95.0h0M243.5 100.1h0M111.6 110.5h0M118.1 99.8h0M118.0 111.2h0M70.3 109.7h0M214.5 95.3h0M258.2 98.8h0M100.8 113.4h0M112.4 88.4h0M91.9 79.4h0M259.7 97.4h0M255.7 89.1h0M102.2 84.6h0M90.7 87.9h0M85.3 85.1h0M264.7 111.0h0M62.5 85.4h0M110.8 103.1h0M258.5 100.1h0M197.5 108.9h0M239.0 106.6h0M60.0 86.9h0M76.2 109.3h0M81.9 81.6h0M82.8 82.3h0M213.8 98.1h0M61.6 107.2h0M89.3 113.1h0M209.8 100.1h0M211.9 97.7h0M115.0 93.6h0M62.0 81.7h0M246.8 106.6h0M218.4 90.3h0M228.7 106.6h0M76.9 76.8h0M191.9 88.5h0M60.7 109.2h0M250.4 92.7h0M96.4 104.1h0M113.8 113.4h0M89.3 88.9h0M90.1 84.6h0M170.2 94.4h0M253.8 98.9h0M109.0 113.4h0M208.0 101.4h0M256.6 107.3h0M79.8 115.9h0M177.2 94.9h0M191.2 107.7h0M139.7 93.3h0M255.8 105.8h0M71.3 89.3h0M97.2 88.8h0M63.1 85.9h0M214.7 90.3h0M198.2 96.4h0M214.4 109.5h0M130.4 91.5h0M90.9 81.6h0M72.6 115.6h0M270.5 94.9h0M204.8 101.4h0M65.5 99.5h0M92.2 81.4h0M113.5 113.5h0M261.5 103.4h0M241.2 95.8h0M101.8 105.3h0M67.8 114.2h0M71.6 68.5h0M209.5 92.4h0M102.3 88.7h0M133.8 91.3h0M228.7 98.5h0M248.4 98.5h0M135.8 92.5h0M80.6 104.5h0M244.2 91.7h0M107.7 84.6h0M230.3 89.6h0M100.3 84.1h0M80.9 87.9h0M69.4 89.9h0M273.8 101.9h0M245.7 108.0h0M76.4 80.6h0M118.1 90.5h0M259.2 104.5h0M114.1 114.8h0M95.0 78.5h0M138.2 87.3h0M223.2 92.2h0M68.6 79.4h0M215.4 93.6h0M152.5 106.5h0M148.0 107.8h0M151.7 91.3h0M147.3 91.5h0M76.9 82.4h0M113.2 97.7h0M253.7 103.2h0M255.6 105.5h0M65.0 85.7h0M246.1 113.9h0M159.1 105.6h0M150.3 89.1h0M244.3 106.1h0M107.5 106.2h0M225.4 95.0h0M61.5 113.1h0M251.5 102.5h0M161.5 92.4h0M139.9 89.5h0M236.2 102.0h0M139.7 102.5h0M114.6 104.6h0M126.9 95.7h0M144.8 91.0h0M62.2 112.1h0M80.4 110.5h0M188.5 89.1h0M144.6 85.7h0M133.6 89.0h0M99.7 87.2h0M220.5 93.2h0M217.5 109.7h0M68.7 76.9h0M65.8 77.5h0M127.7 89.4h0M79.0 88.3h0M121.9 88.9h0M99.7 108.2h0M198.7 101.6h0M132.0 100.4h0M174.5 95.5h0M126.0 108.1h0M63.6 110.6h0M187.4 109.2h0M61.3 118.8h0M282.4 101.8h0M84.7 112.6h0M166.7 100.6h0M228.4 100.4h0M91.4 82.1h0M66.0 117.8h0M183.2 110.0h0M68.1 102.7h0M88.7 113.8h0M115.0 114.4h0M145.0 89.0h0M75.0 100.1h0M121.6 114.4h0M136.8 110.8h0M149.9 91.9h0M151.6 103.6h0M78.5 87.4h0M247.9 108.1h0M72.8 77.1h0M261.7 106.2h0M172.1 108.8h0M209.7 100.5h0M81.9 77.5h0M83.8 86.5h0M85.0 80.6h0M91.7 80.4h0M250.5 102.6h0M253.5 107.6h0M102.5 87.0h0M123.7 107.5h0M66.2 121.1h0M68.2 70.0h0M120.1 117.4h0M210.0 102.2h0M246.8 92.4h0M186.3 106.0h0M109.8 110.6h0M257.9 98.9h0M76.7 71.1h0M127.1 98.2h0M258.8 95.3h0M99.8 116.8h0M159.5 109.4h0M76.2 124.0h0M176.4 96.8h0M102.8 83.5h0M65.5 98.7h0M211.9 98.7h0M107.0 113.2h0M160.5 109.7h0M157.9 108.8h0M123.9 90.6h0M123.4 89.9h0M146.8 97.0h0M76.1 81.7h0M116.8 89.6h0M68.4 109.1h0M136.3 114.4h0M106.1 102.6h0M273.3 101.3h0M146.1 111.9h0M77.0 109.2h0M140.2 102.0h0M72.4 75.3h0M101.1 81.2h0M79.4 84.3h0M247.2 105.0h0M209.5 106.4h0M260.5 106.4h0M151.5 97.4h0M106.7 117.9h0M111.6 88.1h0M79.1 109.1h0M262.7 99.1h0M162.9 102.3h0M181.2 110.1h0M152.9 105.5h0M177.3 93.0h0M81.8 74.8h0M85.1 90.0h0M242.9 92.1h0M65.0 77.2h0M180.6 107.2h0M65.6 111.5h0M120.5 108.1h0M271.7 102.3h0M132.5 94.1h0M202.5 103.3h0M262.2 98.5h0M205.2 96.2h0M121.3 100.6h0M186.9 89.2h0M208.2 96.7h0M96.9 109.4h0M212.7 91.4h0M222.5 101.5h0M213.6 103.8h0M61.9 80.9h0M101.4 88.3h0M191.7 100.3h0M88.5 81.8h0M246.9 94.5h0M149.3 96.5h0M94.7 109.9h0M253.4 98.5h0M257.1 90.6h0M252.0 95.4h0M231.3 103.0h0M98.7 104.7h0M106.1 89.2h0M204.7 108.2h0M164.7 108.8h0M77.4 93.5h0M144.5 89.3h0M256.8 93.5h0M159.3 108.9h0M249.3 98.5h0M60.3 107.6h0M81.4 123.2h0M210.8 99.8h0M253.0 106.9h0M264.9 101.3h0M144.9 112.8h0M255.6 89.3h0M207.8 109.7h0M133.5 89.6h0M234.4 107.1h0M214.4 89.9h0M113.8 110.3h0M65.9 65.9h0M92.3 119.0h0M270.6 101.9h0M260.5 93.3h0M94.7 96.5h0M252.8 100.5h0M246.4 107.9h0M67.9 105.0h0M255.7 102.3h0M224.7 93.9h0M256.1 93.7h0M125.2 109.3h0M118.5 117.6h0M64.5 73.8h0M76.4 77.8h0M70.8 108.8h0M276.3 100.0h0M109.5 85.6h0M89.2 83.5h0M135.9 98.0h0M62.0 112.7h0M109.0 108.3h0M165.1 89.8h0M206.1 91.2h0M178.4 104.2h0M81.3 86.7h0M67.4 91.1h0M247.4 102.0h0M70.2 79.9h0M159.9 91.5h0M77.5 85.3h0M236.8 94.8h0M85.2 108.4h0M90.4 86.6h0M247.4 109.5h0M179.2 95.8h0M198.0 108.5h0M71.9 88.3h0M185.7 90.4h0M242.5 92.3h0M200.8 95.3h0M237.4 103.2h0M113.8 110.2h0M62.2 81.5h0M150.9 104.2h0M105.9 89.7h0M106.8 81.7h0M110.1 104.5h0M196.8 97.1h0M102.3 103.1h0M174.7 94.3h0M76.2 83.9h0M196.5 96.0h0M87.8 93.2h0M233.6 92.1h0M62.7 70.6h0M131.2 89.0h0M129.7 110.8h0M62.1 96.8h0M60.1 79.4h0M259.4 98.3h0M160.7 110.2h0M239.2 108.0h0M259.0 108.9h0M97.2 88.6h0M254.0 94.4h0M69.7 107.1h0M260.0 103.6h0M173.5 107.2h0M114.4 124.1h0M189.8 99.0h0M67.9 85.3h0M246.4 111.5h0M88.3 105.4h0M267.5 99.2h0M166.1 89.5h0M255.1 106.2h0M176.0 106.9h0M105.5 102.5h0M118.5 108.2h0M139.4 104.5h0M83.9 115.2h0M220.8 108.8h0M262.0 95.6h0M95.7 110.4h0M174.5 92.7h0M146.5 112.8h0M193.1 88.5h0M142.8 89.9h0M120.5 111.5h0M190.5 92.1h0M257.5 104.7h0M67.0 75.4h0M141.8 88.8h0M182.6 102.4h0M87.1 125.9h0M158.0 104.5h0M123.0 88.3h0M132.7 94.3h0M114.0 110.0h0M105.7 111.5h0M70.7 70.9h0M98.4 85.6h0M101.8 109.0h0M183.3 101.1h0M69.6 114.5h0M268.3 96.4h0M91.0 112.5h0M61.6 102.6h0M100.6 83.3h0M133.9 103.1h0M191.4 88.9h0M66.9 87.7h0M66.8 71.6h0M255.9 108.5h0M80.4 114.3h0M145.0 108.3h0M118.2 96.1h0M200.7 96.2h0M106.4 117.9h0M144.7 106.6h0M258.6 99.9h0M129.4 103.8h0M277.2 99.3h0M84.9 112.9h0M97.0 89.7h0M265.3 102.2h0M97.6 98.3h0M103.5 114.6h0M66.3 107.5h0M62.2 106.2h0M77.3 115.0h0M224.7 96.8h0M266.0 95.5h0M201.7 89.6h0M255.5 102.9h0M61.4 85.7h0M250.4 107.5h0M80.2 83.9h0M111.9 88.3h0M60.8 85.6h0M141.1 108.8h0M242.5 102.7h0M127.7 90.3h0M78.8 95.8h0M231.0 99.0h0M245.7 107.3h0M110.6 97.7h0M59.3 99.6h0M107.7 88.0h0M162.6 91.0h0M134.2 98.1h0M113.8 93.1h0M123.5 110.8h0M84.0 77.6h0M92.1 109.5h0M111.5 100.4h0" stroke="#000"/><path d="M175.1 112.2h0M201.2 88.4h0M167.5 110.2h0M143.3 110.8h0M196.5 83.5h0M97.9 117.5h0M204.4 87.5h0M160.5 75.9h0M182.0 88.2h0M185.3 115.8h0M186.3 112.4h0M123.0 87.9h0M92.5 81.6h0M201.8 110.7h0M130.4 84.0h0M177.9 89.6h0M212.0 83.6h0M156.0 86.4h0M233.8 87.4h0M186.7 115.6h0M127.2 113.8h0M117.0 65.1h0M169.8 116.5h0M210.3 84.9h0M107.5 84.1h0M165.7 85.9h0M87.4 68.6h0M110.0 83.7h0M151.1 82.1h0M196.7 81.7h0M184.2 83.9h0M265.8 108.6h0M258.8 109.0h0M165.4 86.2h0M183.5 114.7h0M135.0 114.7h0M202.2 87.3h0M145.3 84.5h0M183.8 114.3h0M132.7 114.0h0M87.5 71.3h0M85.5 69.2h0M121.1 85.1h0M185.1 88.4h0M173.2 111.6h0M136.0 71.6h0M129.9 81.3h0M63.1 67.0h0M202.7 89.5h0M217.7 89.3h0M143.4 119.7h0M156.9 88.0h0M175.8 112.3h0M204.1 87.4h0M134.8 117.6h0M113.3 112.8h0M201.9 77.9h0M201.9 109.5h0M190.9 114.3h0M208.3 114.2h0M238.3 109.0h0M235.5 111.9h0M117.1 76.0h0M168.6 111.6h0M230.1 109.8h0M145.8 88.7h0M136.4 66.3h0M185.1 110.1h0M149.4 84.9h0M189.9 119.3h0M147.8 116.9h0M72.4 56.6h0M181.3 89.6h0M204.6 90.0h0M122.8 81.8h0M188.5 112.8h0M74.0 46.4h0M115.2 79.5h0M72.7 52.5h0M69.4 49.9h0M203.0 111.8h0M230.2 109.0h0M185.3 89.6h0M140.7 121.3h0M152.5 115.9h0M188.5 110.9h0M135.3 116.6h0M165.3 113.1h0M175.9 88.2h0M167.3 110.4h0M67.9 59.0h0M213.2 111.0h0M176.4 90.0h0M156.7 86.2h0M115.5 58.8h0M169.7 86.6h0M127.2 114.5h0M161.2 111.8h0M178.2 86.8h0M159.8 88.1h0M77.7 68.2h0M234.4 108.8h0M90.1 115.3h0M233.9 109.7h0M148.0 78.0h0M198.5 110.8h0M84.8 124.9h0M185.0 113.2h0M148.6 115.4h0M152.4 87.2h0M148.6 112.3h0M231.9 91.0h0M150.2 85.4h0M70.8 64.1h0M213.8 86.6h0M86.7 50.0h0M197.4 86.5h0M96.6 78.5h0M75.3 62.2h0M157.3 115.6h0M110.4 86.0h0M206.4 80.9h0M230.2 110.4h0M233.9 120.0h0M97.2 74.7h0M221.5 117.3h0M109.1 82.2h0M106.6 79.8h0M156.3 83.8h0M217.8 87.2h0M127.2 119.3h0M174.8 78.9h0M226.2 113.0h0M156.2 112.3h0M100.0 75.9h0M140.4 113.7h0M139.4 112.4h0M140.0 111.4h0M141.3 112.1h0M124.4 71.0h0M212.0 109.7h0M264.9 107.0h0M193.8 110.7h0M247.7 108.1h0M275.6 106.1h0M184.8 88.3h0M183.7 76.9h0M178.0 87.1h0M146.3 87.9h0M190.8 109.6h0M131.4 113.4h0M174.4 83.8h0M241.6 112.2h0M130.5 84.2h0M197.4 83.2h0M184.6 110.4h0M102.0 116.8h0M163.1 88.2h0M174.0 111.9h0M162.2 114.5h0M153.0 87.4h0M117.5 78.3h0M131.5 86.2h0M132.8 80.2h0M187.1 87.2h0M211.1 88.7h0M104.4 115.4h0M142.4 84.6h0M113.2 82.7h0M91.7 52.4h0M181.8 122.5h0M124.1 73.5h0M211.5 115.7h0M212.1 86.1h0M204.2 89.5h0M210.8 88.8h0M143.7 81.6h0M233.7 123.2h0M198.6 115.6h0M219.4 89.7h0M202.9 90.1h0M140.4 86.2h0M205.4 116.3h0M197.4 112.2h0M202.8 114.6h0M129.4 83.8h0M96.7 81.2h0M109.5 76.4h0M180.1 86.5h0M112.5 73.3h0M188.4 86.2h0M154.0 89.6h0M167.2 89.4h0M171.5 77.8h0M196.9 87.7h0M73.6 55.2h0M99.1 83.4h0M194.2 89.1h0M173.2 89.6h0M137.1 115.8h0M149.9 87.9h0M110.5 81.2h0M162.6 80.9h0M194.9 113.2h0M99.4 74.4h0M136.5 114.5h0M202.2 84.4h0M160.0 120.4h0M118.0 112.1h0M142.9 121.8h0M59.1 77.9h0M137.6 87.3h0M189.7 84.4h0M138.9 89.0h0M169.8 111.7h0M149.3 86.6h0M195.1 86.6h0M113.1 77.0h0M241.7 111.8h0M73.5 52.2h0M151.7 86.2h0M117.8 84.8h0M255.8 115.2h0M126.5 118.1h0M177.2 112.4h0M203.7 113.7h0M130.6 85.1h0M191.4 89.2h0M159.9 83.6h0M174.0 114.1h0M201.3 82.4h0M84.4 64.7h0M138.7 81.8h0M163.5 115.3h0M181.9 88.4h0M110.2 84.9h0M193.8 77.4h0M160.9 83.6h0M154.8 114.7h0M196.7 87.7h0M180.9 111.9h0M258.7 109.2h0M106.2 116.5h0M154.8 87.3h0M154.1 86.1h0M153.2 66.3h0M200.3 87.8h0M84.1 49.2h0M238.0 110.2h0M235.8 88.1h0M137.4 77.0h0M192.1 74.9h0M242.2 86.8h0M80.0 72.3h0M93.3 58.1h0M102.0 80.1h0M150.0 119.0h0M203.4 111.6h0M158.2 89.6h0M220.3 90.2h0M143.5 81.2h0M72.7 62.4h0M187.6 110.7h0M185.0 89.0h0M147.4 79.2h0M248.0 113.6h0M170.3 85.6h0M164.5 111.3h0M146.9 122.2h0M103.4 81.8h0M236.0 111.1h0M124.1 86.1h0M90.6 58.3h0M211.3 87.9h0M118.6 86.1h0M138.6 111.4h0M239.2 114.1h0M224.3 110.9h0M220.1 113.5h0" stroke="#e8200c"/><path d="M53.5 64.2h0M55.0 65.0h0M56.5 64.8h0M58.5 64.3h0M60.0 63.8h0M62.0 63.5h0M148.3 134.3h0M60.0 131.2h0M63.7 130.5h0M68.7 132.0h0M63.0 136.2h0M67.0 136.2h0M71.2 135.5h0M75.0 139.9h0M62.5 142.0h0M66.2 142.5h0M68.7 143.0h0M78.7 142.6h0M88.7 140.5h0M68.7 147.0h0M77.5 149.5h0M67.5 152.5h0M64.5 155.0h0M105.5 150.0h0M97.5 136.2h0M107.5 131.2h0M93.7 132.0h0M82.5 135.0h0M80.0 131.2h0M76.2 130.5h0M77.8 24.1h0M66.7 38.3h0M61.7 41.1h0M68.0 44.5h0M69.0 49.0h0M200.0 133.5h0M276.9 90.0h0M296.1 90.0h0M327.2 92.4h0M346.4 93.3h0M300.6 92.4h0M298.8 93.2h0M304.3 93.9h0M311.0 94.9h0M316.2 95.7h0M331.2 97.7h0M342.8 98.6h0M309.3 98.2h0M308.0 99.9h0M318.7 99.9h0M305.5 103.9h0M313.0 104.4h0M320.5 106.9h0M311.8 107.6h0M322.9 110.6h0M299.3 96.9h0M298.1 99.4h0M300.6 99.9h0M296.8 98.2h0M293.8 99.9h0M291.4 99.4h0M288.1 100.7h0M293.1 103.1h0M289.4 105.6h0M294.3 106.9h0M295.6 108.1h0M299.3 108.9h0M286.9 93.2h0M288.9 93.9h0M252.0 89.3h0M306.3 119.3h0M253.7 121.7h0M290.5 97.0h0M292.0 102.0h0M297.0 104.5h0M302.0 101.5h0" stroke="#000"/><path d="M173.3 166.7h0M154.0 151.0h0M156.7 151.7h0M146.7 148.3h0M131.7 149.3h0M163.3 142.7h0M166.0 139.0h0M171.7 138.3h0M136.0 143.3h0M139.3 139.3h0M132.7 136.0h0M181.7 131.7h0M189.3 132.7h0M205.0 125.7h0M210.0 125.7h0M229.3 126.7h0M70.5 153.7h0M75.0 138.7h0M79.5 137.5h0M82.5 138.0h0M87.5 135.5h0M85.0 134.5h0M79.5 142.0h0M87.0 144.5h0M83.7 146.2h0M83.7 148.7h0M98.7 154.5h0M93.7 158.7h0M103.7 140.0h0M112.0 138.7h0M111.2 145.5h0M120.0 139.5h0M123.7 147.0h0M126.2 146.2h0M129.5 154.5h0M127.5 134.5h0M133.7 136.2h0M117.5 130.5h0M122.5 130.0h0M102.5 133.0h0M96.2 131.2h0M168.0 35.5h0M127.0 45.5h0M130.0 46.2h0M123.0 48.0h0M125.7 49.5h0M112.5 49.5h0M113.7 51.2h0M111.2 53.7h0M118.0 53.7h0M178.0 54.5h0M168.7 57.0h0M167.0 58.7h0M140.0 57.0h0M141.2 58.7h0M128.7 58.0h0M147.5 60.5h0M135.0 62.0h0M169.5 63.7h0M163.7 65.7h0M182.5 67.5h0M192.0 66.2h0M208.0 70.5h0M222.0 72.0h0M200.5 73.7h0M94.0 7.3h0M99.3 7.7h0M111.7 19.3h0M136.7 35.7h0M67.2 24.8h0M71.1 22.6h0M72.0 25.3h0M60.9 28.3h0M64.1 29.8h0M68.9 31.7h0M58.9 33.7h0M67.2 35.0h0M55.0 36.1h0M58.3 36.7h0M59.6 37.4h0M66.7 36.5h0M77.2 39.4h0M66.7 41.2h0M79.5 42.5h0M75.0 46.0h0M76.0 48.0h0M79.5 50.0h0M82.5 47.5h0M87.5 46.0h0M57.3 169.0h0M63.3 169.3h0M72.7 170.7h0M76.0 169.3h0M80.7 166.7h0M82.7 167.7h0M87.7 165.0h0M86.0 170.0h0M80.0 175.0h0M91.7 179.3h0M105.0 186.7h0M110.7 187.7h0M109.0 177.3h0M119.0 167.7h0M126.0 179.0h0M195.0 146.0h0M196.0 166.0h0M212.0 162.0h0M261.0 127.0h0M306.3 122.5h0M286.9 119.6h0M283.1 111.6h0M289.4 112.3h0M291.9 113.1h0M295.1 111.9h0" stroke="#e8200c"/></g>
<path d="M91.3 86.5h0M129.6 105.0h0M98.5 103.6h0M144.1 86.7h0M71.5 97.8h0M132.2 98.1h0M70.3 105.4h0M106.5 106.4h0M67.1 97.6h0M116.6 93.5h0M81.5 93.1h0M111.3 110.8h0M138.9 87.9h0M114.2 97.4h0M104.6 95.4h0M145.0 111.9h0M95.6 95.8h0M111.4 104.2h0M99.7 97.9h0M84.1 90.7h0M112.2 88.3h0M74.2 103.8h0M73.4 86.4h0M147.4 96.9h0M81.7 99.0h0M68.9 94.3h0M127.8 91.1h0M140.9 109.3h0" stroke="#fff" stroke-opacity="0.4" stroke-width="0.9" stroke-linecap="round" fill="none"/>
<g stroke="#2233bb" stroke-opacity="0.62" stroke-width="1" fill="none"><line x1="42.5" y1="89.5" x2="358" y2="89.5"/><line x1="42.5" y1="111.4" x2="358" y2="111.4"/></g>
<rect x="42.25" y="1.3" width="316.15" height="193.2" fill="none" stroke="#5a5a5a" stroke-width="1.05"/>
<g stroke="#484848" stroke-width="0.95" fill="none"><line x1="66.8" y1="194.5" x2="66.8" y2="200.9"/><line x1="108.1" y1="194.5" x2="108.1" y2="200.9"/><line x1="149.3" y1="194.5" x2="149.3" y2="200.9"/><line x1="190.6" y1="194.5" x2="190.6" y2="200.9"/><line x1="231.8" y1="194.5" x2="231.8" y2="200.9"/><line x1="273.1" y1="194.5" x2="273.1" y2="200.9"/><line x1="314.4" y1="194.5" x2="314.4" y2="200.9"/><line x1="355.6" y1="194.5" x2="355.6" y2="200.9"/><line x1="35.3" y1="155.4" x2="42.2" y2="155.4"/><line x1="35.3" y1="100.5" x2="42.2" y2="100.5"/><line x1="35.3" y1="45.5" x2="42.2" y2="45.5"/></g>
<text x="66.8" y="217.2" text-anchor="middle">0</text><text x="108.1" y="217.2" text-anchor="middle">2</text><text x="149.3" y="217.2" text-anchor="middle">4</text><text x="190.6" y="217.2" text-anchor="middle">6</text><text x="231.8" y="217.2" text-anchor="middle">8</text><text x="273.1" y="217.2" text-anchor="middle">10</text><text x="314.4" y="217.2" text-anchor="middle">12</text><text x="355.6" y="217.2" text-anchor="middle">14</text><text transform="translate(29.3,155.5) rotate(-90)" text-anchor="middle">-5</text><text transform="translate(29.3,100.5) rotate(-90)" text-anchor="middle">0</text><text transform="translate(29.3,45.6) rotate(-90)" text-anchor="middle">5</text>
<text transform="translate(9.4,98.3) rotate(-90)" text-anchor="middle">logFC</text>
<text x="200.2" y="239.8" text-anchor="middle" style="font-size:10.5px">Average logCPM</text>
</svg>
</body></html>
